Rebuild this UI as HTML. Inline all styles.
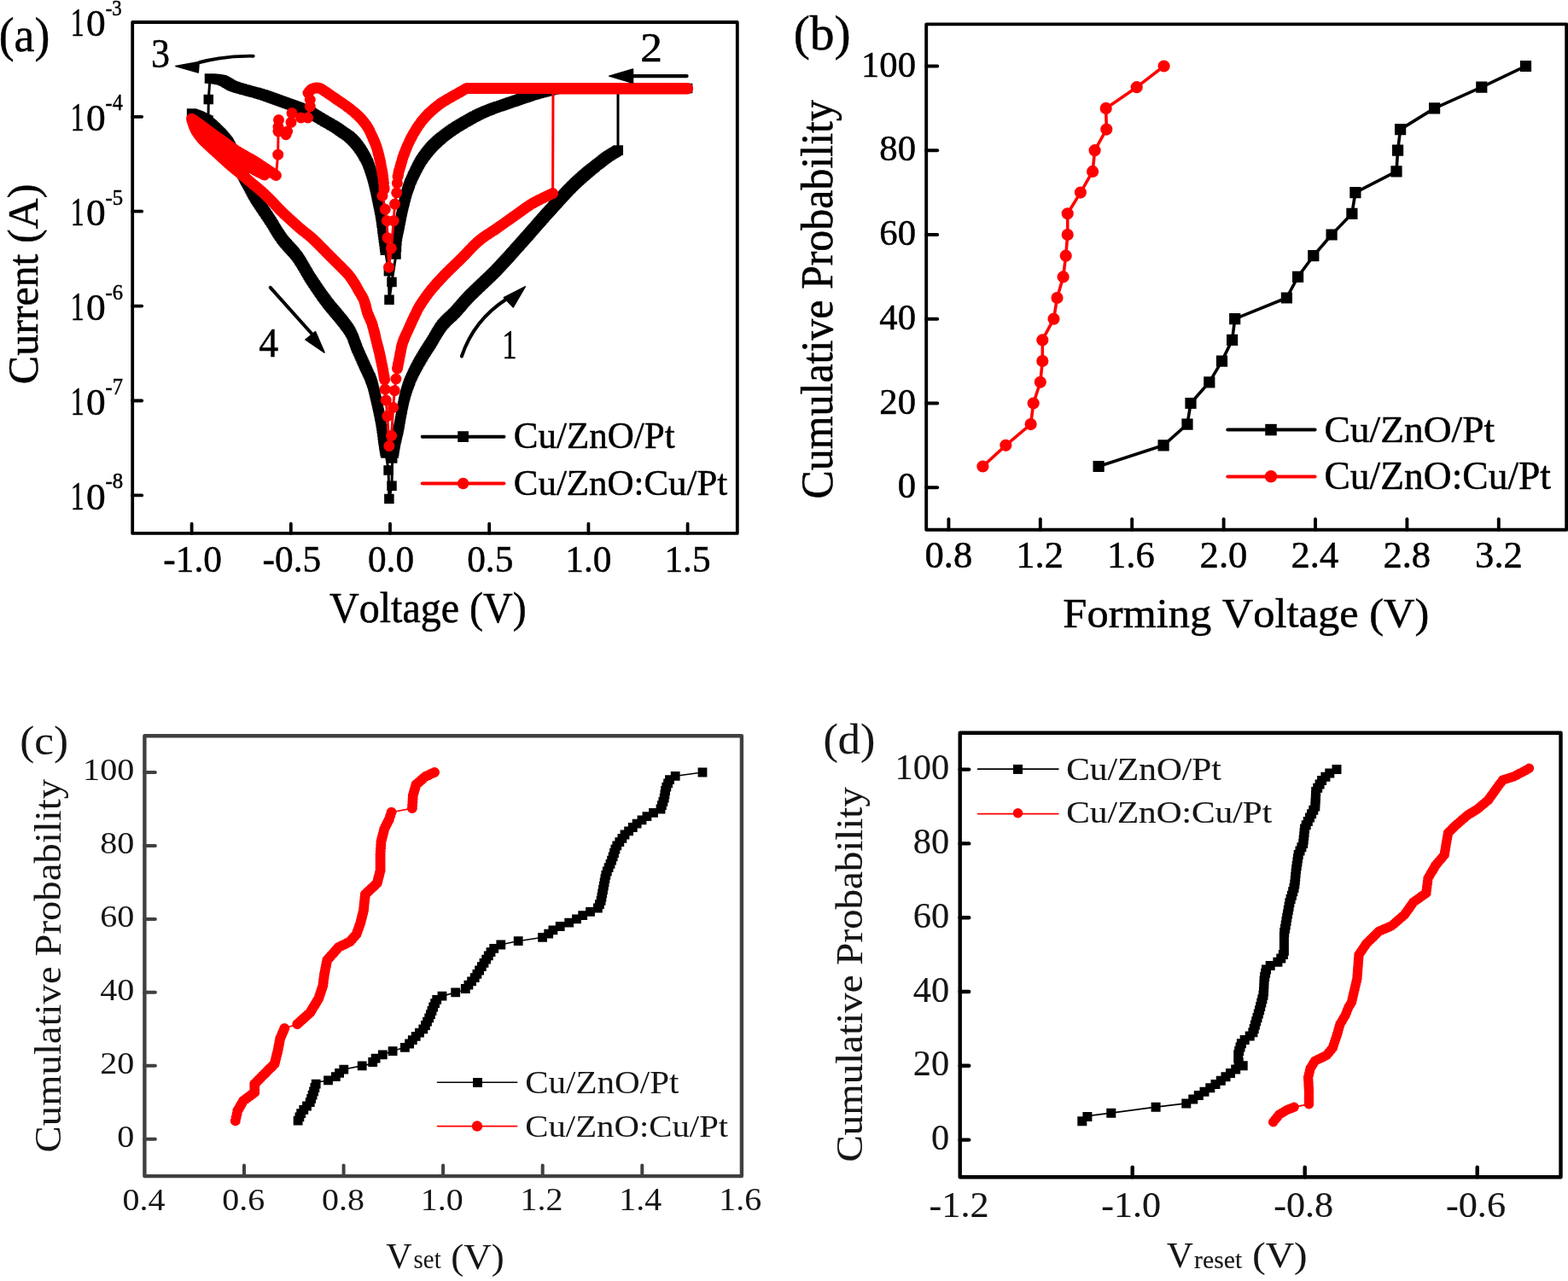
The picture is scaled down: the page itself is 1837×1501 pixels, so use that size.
<!DOCTYPE html>
<html><head><meta charset="utf-8"><title>Figure</title>
<style>html,body{margin:0;padding:0;background:#fff;overflow:hidden}svg{display:block}</style>
</head><body>
<svg width="1837" height="1501" viewBox="0 0 1837 1501" font-family="&apos;Liberation Serif&apos;, serif">
<rect width="1837" height="1501" fill="#fff"/>
<path d="M224.6 133 L226 133.5 L227.4 134 L228.8 134.5 L230.2 135 L231.6 135.5 L233 136.1 L234.4 136.7 L235.8 137.4 L237.2 138.2 L238.6 139 L239.9 139.9 L241.3 140.9 L242.7 142 L244.1 143.1 L245.1 143.9 L246 144.7 L246.9 145.5 L247.9 146.3 L248.8 147.1 L249.7 148 L250.6 148.8 L251.6 149.7 L252.5 150.6 L253.4 151.5 L254.4 152.4 L255.3 153.3 L256.2 154.2 L257.2 155.2 L258.1 156.1 L259 157.1 L259.9 158.1 L260.9 159.1 L261.8 160.2 L262.7 161.2 L263.7 162.3 L264.6 163.4 L265.5 164.6 L266.5 165.8 L267.4 167.1 L268.3 168.6 L269.2 170.2 L270.2 172.1 L271.1 174.1 L272 176.1 L273 178.1 L273.9 180.2 L274.8 182.4 L275.3 183.5 L275.8 184.6 L276.2 185.8 L276.7 186.9 L277.1 188 L278.1 190.2 L279 192.4 L279.5 193.5 L279.9 194.7 L280.4 195.8 L280.9 196.9 L281.3 198 L282.3 200.2 L283.2 202.3 L284.1 204.3 L285.1 206.1 L286 207.9 L286.9 209.7 L287.8 211.4 L288.8 213.1 L289.7 214.8 L290.6 216.5 L291.6 218.2 L292.5 219.9 L293.4 221.7 L294.4 223.4 L295.3 225.2 L296.2 226.9 L297.1 228.5 L298.1 230.1 L299 231.7 L299.9 233.2 L300.9 234.7 L301.8 236.1 L302.7 237.5 L303.7 238.9 L304.6 240.3 L305.5 241.7 L306.4 243.1 L307.4 244.5 L308.3 245.8 L309.2 247.2 L310.2 248.6 L311.1 249.9 L312 251.3 L313 252.7 L313.9 254.1 L314.8 255.5 L315.7 256.9 L316.7 258.3 L317.6 259.8 L318.5 261.3 L319.5 262.8 L320.4 264.3 L321.3 265.9 L322.3 267.4 L323.2 268.9 L324.1 270.5 L325 271.9 L326 273.4 L326.9 274.8 L327.8 276.2 L328.8 277.6 L329.7 278.9 L330.6 280.2 L331.6 281.4 L332.5 282.5 L333.4 283.7 L334.3 284.8 L335.3 285.8 L336.2 286.8 L337.1 287.9 L338.1 288.9 L339 289.9 L339.9 290.9 L340.9 291.9 L341.8 292.9 L342.7 294 L343.6 295 L344.6 296.1 L345.5 297.2 L346.4 298.4 L347.4 299.5 L348.3 300.8 L349.2 302.1 L350.2 303.4 L351.1 304.9 L352 306.3 L352.9 307.8 L353.9 309.4 L354.8 311 L355.7 312.6 L356.7 314.2 L357.6 315.8 L358.5 317.4 L359.5 319.1 L360.4 320.6 L361.3 322.2 L362.2 323.7 L363.2 325.2 L364.1 326.7 L365 328.1 L366 329.5 L366.9 330.9 L367.8 332.3 L368.8 333.7 L369.7 335.1 L370.6 336.5 L371.5 337.8 L372.5 339.2 L373.4 340.5 L374.3 341.9 L375.3 343.2 L376.2 344.5 L377.1 345.9 L378.1 347.2 L379 348.4 L379.9 349.7 L380.9 351 L381.8 352.2 L382.7 353.5 L383.6 354.7 L384.6 355.9 L385.5 357.1 L386.4 358.2 L387.4 359.4 L388.3 360.5 L389.2 361.6 L390.2 362.7 L391.1 363.8 L392 364.9 L392.9 366 L393.9 367.1 L394.8 368.2 L395.7 369.3 L396.7 370.4 L397.6 371.6 L398.5 372.7 L399.5 373.8 L400.4 374.9 L401.3 376.1 L402.2 377.3 L403.2 378.5 L404.1 379.7 L405 381 L406 382.2 L406.9 383.5 L407.8 384.8 L408.8 386.2 L409.7 387.7 L410.6 389.3 L411.5 391.1 L412.5 393 L413.4 395.2 L413.9 396.4 L414.3 397.6 L414.8 398.9 L415.3 400.2 L415.7 401.5 L416.2 402.8 L416.7 404.1 L417.1 405.3 L417.6 406.5 L418.1 407.7 L418.5 408.8 L419.4 411 L420.4 413.1 L421.3 415.2 L422.2 417.3 L423.2 419.4 L424.1 421.5 L425 423.6 L426 425.7 L426.9 427.7 L427.8 429.8 L428.7 431.8 L429.7 433.8 L430.6 435.8 L431.5 437.8 L432.5 439.9 L433.4 442 L433.9 443.1 L434.3 444.3 L434.8 445.5 L435.3 446.8 L435.7 448.2 L436.2 449.6 L436.7 451.2 L437.1 452.9 L437.6 454.7 L438 456.6 L438.5 458.6 L439 460.6 L439.4 462.6 L439.9 464.6 L440.4 466.6 L440.8 468.6 L441.3 470.6 L441.8 472.7 L442.2 474.7 L442.7 476.9 L443.2 479 L443.6 481.2 L444.1 483.5 L444.6 485.8 L445 488.2 L445.5 490.7 L446 493.4 L446.4 496.2 L446.9 499.2 L447.3 502.5 L447.8 506.1 L448.3 510 L448.7 513.7 L449.2 517 L449.7 520.1 L450.1 523.1 L450.6 525.8 L451.1 528.3 L451.5 530 L452 531 L455.1 551 L455.9 584.6 L459 569.3 L459.7 537 L461.2 531 L461.7 528.2 L462.1 525.5 L462.6 522.7 L463.1 520 L463.5 517.5 L464 515.1 L464.5 512.9 L464.9 510.9 L465.4 509 L465.8 507.1 L466.3 505.2 L466.8 503.2 L467.2 501.1 L467.7 498.7 L468.2 496.2 L468.6 493.5 L469.1 490.7 L469.6 488 L470 485.3 L470.5 482.7 L471 480.2 L471.4 477.9 L471.9 475.6 L472.4 473.3 L472.8 471.1 L473.3 469 L473.7 467 L474.2 465 L474.7 463.2 L475.1 461.5 L475.6 459.8 L476.1 458.2 L476.5 456.7 L477 455.2 L477.5 453.8 L477.9 452.5 L478.4 451.2 L478.9 449.9 L479.3 448.7 L479.8 447.5 L480.3 446.4 L480.7 445.2 L481.6 443.1 L482.6 441 L483.5 439 L484.4 437 L485.4 435.1 L486.3 433.3 L487.2 431.4 L488.2 429.7 L489.1 427.9 L490 426.2 L490.9 424.6 L491.9 423 L492.8 421.4 L493.7 419.8 L494.7 418.2 L495.6 416.7 L496.5 415.1 L497.5 413.6 L498.4 412.1 L499.3 410.7 L500.2 409.2 L501.2 407.8 L502.1 406.3 L503 404.9 L504 403.4 L504.9 402 L505.8 400.5 L506.7 399 L507.7 397.4 L508.6 395.8 L509.5 394.2 L510.5 392.6 L511.4 391 L512.3 389.5 L513.3 387.9 L514.2 386.5 L515.1 385 L516 383.7 L517 382.4 L517.9 381.1 L518.8 380 L519.8 378.9 L520.7 377.9 L521.6 376.9 L522.5 376 L523.5 375.1 L524.4 374.2 L525.3 373.3 L526.3 372.5 L527.2 371.6 L528.1 370.8 L529.1 369.9 L530 369 L530.9 368.1 L531.8 367.2 L532.8 366.2 L533.7 365.2 L534.6 364.2 L535.6 363.2 L536.5 362.1 L537.4 361.1 L538.4 360 L539.3 358.9 L540.2 357.9 L541.1 356.8 L542.1 355.7 L543 354.6 L543.9 353.6 L544.9 352.5 L545.8 351.5 L546.7 350.5 L547.6 349.5 L548.6 348.5 L549.5 347.5 L550.4 346.6 L551.4 345.6 L552.3 344.7 L553.2 343.8 L554.2 342.9 L555.1 341.9 L556 341 L556.9 340.2 L557.9 339.3 L558.8 338.4 L559.7 337.5 L560.7 336.6 L561.6 335.7 L562.5 334.9 L563.4 334 L564.4 333.1 L565.3 332.2 L566.2 331.4 L567.2 330.5 L568.1 329.6 L569 328.7 L570 327.8 L570.9 327 L571.8 326.1 L572.7 325.2 L573.7 324.3 L574.6 323.4 L575.5 322.5 L576.5 321.6 L577.4 320.7 L578.3 319.7 L579.3 318.8 L580.2 317.9 L581.1 316.9 L582 316 L583 315 L583.9 314 L584.8 313 L585.8 312.1 L586.7 311.1 L587.6 310.1 L588.5 309.1 L589.5 308.1 L590.4 307.1 L591.3 306.1 L592.3 305 L593.2 304 L594.1 303 L595.1 302 L596 300.9 L596.9 299.9 L597.8 298.9 L598.8 297.8 L599.7 296.8 L600.6 295.8 L601.6 294.7 L602.5 293.7 L603.4 292.6 L604.3 291.6 L605.3 290.5 L606.2 289.5 L607.1 288.5 L608.1 287.4 L609 286.4 L609.9 285.3 L610.9 284.3 L611.8 283.2 L612.7 282.2 L613.6 281.2 L614.6 280.1 L615.5 279.1 L616.4 278 L617.4 277 L618.3 275.9 L619.2 274.9 L620.2 273.8 L621.1 272.8 L622 271.7 L622.9 270.6 L623.9 269.6 L624.8 268.5 L625.7 267.4 L626.7 266.4 L627.6 265.3 L628.5 264.2 L629.4 263.2 L630.4 262.1 L631.3 261.1 L632.2 260 L633.2 258.9 L634.1 257.9 L635 256.8 L636 255.8 L636.9 254.7 L637.8 253.7 L638.7 252.6 L639.7 251.6 L640.6 250.6 L641.5 249.5 L642.5 248.5 L643.4 247.5 L644.3 246.4 L645.2 245.4 L646.2 244.4 L647.1 243.4 L648 242.3 L649 241.3 L649.9 240.3 L650.8 239.2 L651.8 238.2 L652.7 237.2 L653.6 236.2 L654.5 235.1 L655.5 234.1 L656.4 233.1 L657.3 232.1 L658.3 231.1 L659.2 230.1 L660.1 229 L661.1 228 L662 227 L662.9 226.1 L663.8 225.1 L664.8 224.1 L665.7 223.1 L666.6 222.1 L667.6 221.2 L668.5 220.2 L669.4 219.3 L670.3 218.3 L671.3 217.4 L672.2 216.5 L673.1 215.6 L674.1 214.7 L675 213.8 L675.9 212.9 L676.9 212.1 L677.8 211.2 L678.7 210.4 L679.6 209.5 L680.6 208.7 L681.5 207.9 L682.4 207.1 L683.4 206.3 L684.3 205.5 L685.2 204.7 L686.1 203.9 L687.1 203.1 L688 202.3 L688.9 201.5 L689.9 200.8 L690.8 200 L691.7 199.2 L693.1 198.1 L694.5 197 L695.9 195.9 L697.3 194.7 L698.7 193.6 L700.1 192.5 L701.5 191.4 L702.9 190.4 L704.3 189.3 L705.7 188.2 L707.1 187.1 L708.5 186.1 L709.9 185 L711.2 184.1 L712.6 183.1 L714 182.2 L715.4 181.3 L716.8 180.4 L718.2 179.6 L719.6 178.7 L721 177.9 L722.4 177.1 L723.8 176.3 L724.3 176.1" fill="none" stroke="#000" stroke-width="3" stroke-linejoin="round" stroke-linecap="round" />
<path d="M724 176 L724 103.6 L726.6 103.6 L727.7 103.6 L728.9 103.6 L730.1 103.6 L731.2 103.6 L732.4 103.6 L733.6 103.6 L734.7 103.6 L735.9 103.6 L737 103.6 L738.2 103.6 L739.4 103.6 L740.5 103.6 L741.7 103.6 L742.9 103.6 L744 103.6 L745.2 103.6 L746.3 103.6 L747.5 103.6 L748.7 103.6 L749.8 103.6 L751 103.6 L752.1 103.6 L753.3 103.6 L754.5 103.6 L755.6 103.6 L756.8 103.6 L758 103.6 L759.1 103.6 L760.3 103.6 L761.4 103.6 L762.6 103.6 L763.8 103.6 L764.9 103.6 L766.1 103.6 L767.3 103.6 L768.4 103.6 L769.6 103.6 L770.7 103.6 L771.9 103.6 L773.1 103.6 L774.2 103.6 L775.4 103.6 L776.5 103.6 L777.7 103.6 L778.9 103.6 L780 103.6 L781.2 103.6 L782.4 103.6 L783.5 103.6 L784.7 103.6 L785.8 103.6 L787 103.6 L788.2 103.6 L789.3 103.6 L790.5 103.6 L791.7 103.6 L792.8 103.6 L794 103.6 L795.1 103.6 L796.3 103.6 L797.5 103.6 L798.6 103.6 L799.8 103.6 L801 103.6 L802.1 103.6 L803.3 103.6 L804.4 103.6 L805.6 103.6" fill="none" stroke="#000" stroke-width="3" stroke-linejoin="round" stroke-linecap="round" />
<path d="M805.6 103.6 L804.2 103.6 L802.8 103.6 L801.4 103.6 L800 103.6 L798.6 103.6 L797.2 103.6 L795.8 103.6 L794.4 103.6 L793.1 103.6 L791.7 103.6 L790.3 103.6 L788.9 103.6 L787.5 103.6 L786.1 103.6 L784.7 103.6 L783.3 103.6 L781.9 103.6 L780.5 103.6 L779.1 103.6 L777.7 103.6 L776.3 103.6 L774.9 103.6 L773.5 103.6 L772.1 103.6 L770.7 103.6 L769.3 103.6 L768 103.6 L766.6 103.6 L765.2 103.6 L763.8 103.6 L762.4 103.6 L761 103.6 L759.6 103.6 L758.2 103.6 L756.8 103.6 L755.4 103.6 L754 103.6 L752.6 103.6 L751.2 103.6 L749.8 103.6 L748.4 103.6 L747 103.6 L745.6 103.6 L744.3 103.6 L742.9 103.6 L741.5 103.6 L740.1 103.6 L738.7 103.6 L737.3 103.6 L735.9 103.6 L734.5 103.6 L733.1 103.6 L731.7 103.6 L730.3 103.6 L728.9 103.6 L727.5 103.6 L726.1 103.6 L724.7 103.6 L723.3 103.6 L721.9 103.6 L720.5 103.6 L719.2 103.6 L717.8 103.6 L716.4 103.6 L715 103.6 L713.6 103.6 L712.2 103.6 L710.8 103.6 L709.4 103.6 L708 103.6 L706.6 103.6 L705.2 103.6 L703.8 103.6 L702.4 103.6 L701 103.6 L699.6 103.6 L698.2 103.6 L696.8 103.6 L695.5 103.6 L694.1 103.6 L692.7 103.6 L691.3 103.6 L689.9 103.6 L688.5 103.6 L687.1 103.6 L685.7 103.6 L684.3 103.6 L682.9 103.6 L681.5 103.6 L680.1 103.6 L678.7 103.6 L677.3 103.6 L675.9 103.6 L674.5 103.6 L673.1 103.6 L671.7 103.6 L670.4 103.6 L669 103.6 L667.6 103.6 L666.2 103.6 L664.8 103.7 L663.4 103.7 L662 103.7 L660.6 103.7 L659.2 103.8 L657.8 103.8 L656.4 103.9 L655 104 L653.6 104.1 L652.2 104.2 L650.8 104.4 L649.4 104.6 L648 105 L646.7 105.3 L645.3 105.7 L643.9 106 L642.5 106.3 L641.1 106.7 L639.7 107 L638.3 107.4 L636.9 107.7 L635.5 108.1 L634.1 108.4 L632.7 108.8 L631.3 109.2 L629.9 109.6 L628.5 110 L627.1 110.4 L625.7 110.8 L624.3 111.2 L622.9 111.6 L621.6 112.1 L620.2 112.5 L618.8 113 L617.4 113.4 L616 113.9 L614.6 114.4 L613.2 114.8 L611.8 115.3 L610.4 115.8 L609 116.3 L607.6 116.8 L606.2 117.2 L604.8 117.7 L603.4 118.2 L602 118.7 L600.6 119.2 L599.2 119.6 L597.9 120.1 L596.5 120.6 L595.1 121.1 L593.7 121.5 L592.3 122 L590.9 122.5 L589.5 122.9 L588.1 123.4 L586.7 123.9 L585.3 124.4 L583.9 124.8 L582.5 125.3 L581.1 125.8 L579.7 126.3 L578.3 126.8 L576.9 127.3 L575.5 127.8 L574.1 128.4 L572.8 128.9 L571.4 129.4 L570 130 L568.6 130.6 L567.2 131.2 L565.8 131.8 L564.4 132.4 L563 133.1 L561.6 133.7 L560.2 134.4 L558.8 135.1 L557.4 135.9 L556 136.6 L554.6 137.3 L553.2 138.1 L551.8 138.9 L550.4 139.6 L549.1 140.4 L547.7 141.2 L546.3 142 L544.9 142.8 L543.5 143.6 L542.1 144.4 L540.7 145.2 L539.3 146 L537.9 146.9 L536.5 147.7 L535.1 148.6 L533.7 149.5 L532.3 150.4 L530.9 151.3 L529.5 152.2 L528.1 153.2 L526.7 154.2 L525.3 155.2 L524 156.2 L522.6 157.3 L521.2 158.3 L519.8 159.4 L518.4 160.5 L517 161.6 L516.1 162.4 L515.1 163.2 L514.2 164 L513.3 164.8 L512.3 165.7 L511.4 166.5 L510.5 167.4 L509.5 168.3 L508.6 169.2 L507.7 170.1 L506.8 171.1 L505.8 172.1 L504.9 173.1 L504 174.1 L503 175.2 L502.1 176.3 L501.2 177.4 L500.3 178.6 L499.3 179.8 L498.4 181 L497.5 182.2 L496.5 183.5 L495.6 184.8 L494.7 186.2 L493.7 187.6 L492.8 189.1 L491.9 190.6 L491 192.3 L490 193.9 L489.1 195.7 L488.2 197.5 L487.2 199.4 L486.3 201.3 L485.4 203.2 L484.4 205.2 L483.5 207.1 L482.6 209.2 L481.7 211.3 L480.7 213.5 L480.3 214.7 L479.8 215.9 L479.3 217.2 L478.9 218.5 L478.4 219.8 L477.9 221.2 L477.5 222.6 L477 224.1 L476.5 225.7 L476.1 227.3 L475.6 229 L475.2 230.8 L474.7 232.6 L474.2 234.4 L473.8 236.3 L473.3 238.2 L472.8 240.2 L472.4 242.1 L471.9 244.2 L471.4 246.4 L471 248.6 L470.5 251 L470 253.4 L469.6 255.8 L469.1 258.3 L468.6 260.7 L468.2 263.1 L467.7 265.3 L467.3 267.3 L466.8 269.3 L466.3 271.4 L465.9 273.8 L465.4 277.1 L464.9 282.1 L464.5 289.4 L464 298 L459 330.6 L456 351.2 L455.4 317.8 L451.3 293.3 L451.3 293.3 L450.8 289.7 L450.4 286.1 L449.9 282.5 L449.4 278.9 L449 275.4 L448.5 271.9 L448 268.4 L447.6 264.8 L447.1 261.3 L446.7 257.9 L446.2 254.6 L445.7 251.4 L445.3 248.5 L444.8 245.9 L444.3 243.4 L443.9 241.1 L443.4 238.9 L442.9 236.7 L442.5 234.5 L442 232.2 L441.5 230 L441.1 227.7 L440.6 225.5 L440.2 223.3 L439.7 221.1 L439.2 219 L438.8 216.9 L438.3 214.9 L437.8 213 L437.4 211.2 L436.9 209.4 L436.4 207.6 L436 206 L435.5 204.4 L435 202.8 L434.6 201.3 L434.1 199.9 L433.6 198.4 L433.2 197.1 L432.7 195.7 L432.3 194.4 L431.8 193.1 L431.3 191.9 L430.9 190.7 L429.9 188.7 L429 186.8 L428.1 185 L427.1 183.3 L426.2 181.7 L425.3 180.1 L424.4 178.6 L423.4 177.1 L422.5 175.6 L421.6 174.2 L420.6 172.9 L419.7 171.6 L418.8 170.4 L417.9 169.2 L416.9 168.1 L416 167.1 L415.1 166 L414.1 165 L413.2 164.1 L412.3 163.1 L411.4 162.2 L410.4 161.4 L409.5 160.6 L408.6 159.8 L407.2 158.7 L405.8 157.8 L404.4 156.8 L403 156 L401.6 155.1 L400.2 154.1 L398.8 153.1 L397.4 152.1 L396 151 L394.6 150.1 L393.2 149.2 L391.8 148.3 L390.4 147.5 L389.1 146.7 L387.7 145.9 L386.3 145.1 L384.9 144.3 L383.5 143.5 L382.1 142.7 L380.7 141.9 L379.3 141.1 L377.9 140.3 L376.5 139.4 L375.1 138.6 L373.7 137.7 L372.3 136.9 L370.9 136 L369.5 135.2 L368.2 134.4 L366.8 133.5 L365.4 132.6 L364 131.8 L362.6 131.1 L361.2 130.5 L359.8 129.9 L358.4 129.3 L357 128.8 L355.6 128.2 L354.2 127.7 L352.8 127.2 L351.4 126.6 L350 126.1 L348.6 125.6 L347.2 125.1 L345.9 124.6 L344.5 124.1 L343.1 123.5 L341.7 123 L340.3 122.5 L338.9 122 L337.5 121.5 L336.1 121 L334.7 120.5 L333.3 120 L331.9 119.5 L330.5 119 L329.1 118.5 L327.7 118 L326.3 117.5 L324.9 117 L323.6 116.5 L322.2 116 L320.8 115.5 L319.4 115 L318 114.5 L316.6 114 L315.2 113.5 L313.8 113 L312.4 112.5 L311 112.1 L309.6 111.6 L308.2 111.1 L306.8 110.7 L305.4 110.2 L304 109.8 L302.7 109.4 L301.3 109 L299.9 108.6 L298.5 108.2 L297.1 107.9 L295.7 107.5 L294.3 107.2 L292.9 106.8 L291.5 106.4 L290.1 106 L288.7 105.6 L287.3 105.3 L285.9 104.9 L284.5 104.5 L283.1 104.1 L281.7 103.7 L280.4 103.3 L279 102.9 L277.6 102.5 L276.2 102.1 L274.8 101.6 L273.4 101 L272 100.4 L270.6 99.7 L269.2 99 L267.8 98.1 L266.4 97.3 L265 96.4 L263.6 95.6 L262.2 94.9 L260.8 94.3 L259.5 93.8 L258.1 93.5 L256.7 93.2 L255.3 92.9 L253.9 92.7 L252.5 92.6 L251.1 92.4 L249.7 92.3 L248.3 92.2 L246.9 92.1 L245.5 92" fill="none" stroke="#000" stroke-width="3" stroke-linejoin="round" stroke-linecap="round" />
<path d="M246 92 L244.3 116.6 L244 141 L241.7 140 L239.4 139 L237.1 138.5 L234.8 137.5 L232.5 136.5 L230.2 135.5 L227.9 134.5 L225.6 133.5" fill="none" stroke="#000" stroke-width="3" stroke-linejoin="round" stroke-linecap="round" />
<path d="M461.2 531h0M461.7 528.2h0M462.1 525.5h0M462.6 522.7h0M463.1 520h0M463.5 517.5h0M464 515.1h0M464.5 512.9h0M464.9 510.9h0M465.4 509h0M465.8 507.1h0M466.3 505.2h0M466.8 503.2h0M467.2 501.1h0M467.7 498.7h0M468.2 496.2h0M468.6 493.5h0M469.1 490.7h0M469.6 488h0M470 485.3h0M470.5 482.7h0M471 480.2h0M471.4 477.9h0M471.9 475.6h0M472.4 473.3h0M472.8 471.1h0M473.3 469h0M473.7 467h0M474.2 465h0M474.7 463.2h0M475.1 461.5h0M475.6 459.8h0M476.1 458.2h0M476.5 456.7h0M477 455.2h0M477.5 453.8h0M477.9 452.5h0M478.4 451.2h0M478.9 449.9h0M479.3 448.7h0M479.8 447.5h0M480.3 446.4h0M480.7 445.2h0M481.6 443.1h0M482.6 441h0M483.5 439h0M484.4 437h0M485.4 435.1h0M486.3 433.3h0M487.2 431.4h0M488.2 429.7h0M489.1 427.9h0M490 426.2h0M490.9 424.6h0M491.9 423h0M492.8 421.4h0M493.7 419.8h0M494.7 418.2h0M495.6 416.7h0M496.5 415.1h0M497.5 413.6h0M498.4 412.1h0M499.3 410.7h0M500.2 409.2h0M501.2 407.8h0M502.1 406.3h0M503 404.9h0M504 403.4h0M504.9 402h0M505.8 400.5h0M506.7 399h0M507.7 397.4h0M508.6 395.8h0M509.5 394.2h0M510.5 392.6h0M511.4 391h0M512.3 389.5h0M513.3 387.9h0M514.2 386.5h0M515.1 385h0M516 383.7h0M517 382.4h0M517.9 381.1h0M518.8 380h0M519.8 378.9h0M520.7 377.9h0M521.6 376.9h0M522.5 376h0M523.5 375.1h0M524.4 374.2h0M525.3 373.3h0M526.3 372.5h0M527.2 371.6h0M528.1 370.8h0M529.1 369.9h0M530 369h0M530.9 368.1h0M531.8 367.2h0M532.8 366.2h0M533.7 365.2h0M534.6 364.2h0M535.6 363.2h0M536.5 362.1h0M537.4 361.1h0M538.4 360h0M539.3 358.9h0M540.2 357.9h0M541.1 356.8h0M542.1 355.7h0M543 354.6h0M543.9 353.6h0M544.9 352.5h0M545.8 351.5h0M546.7 350.5h0M547.6 349.5h0M548.6 348.5h0M549.5 347.5h0M550.4 346.6h0M551.4 345.6h0M552.3 344.7h0M553.2 343.8h0M554.2 342.9h0M555.1 341.9h0M556 341h0M556.9 340.2h0M557.9 339.3h0M558.8 338.4h0M559.7 337.5h0M560.7 336.6h0M561.6 335.7h0M562.5 334.9h0M563.4 334h0M564.4 333.1h0M565.3 332.2h0M566.2 331.4h0M567.2 330.5h0M568.1 329.6h0M569 328.7h0M570 327.8h0M570.9 327h0M571.8 326.1h0M572.7 325.2h0M573.7 324.3h0M574.6 323.4h0M575.5 322.5h0M576.5 321.6h0M577.4 320.7h0M578.3 319.7h0M579.3 318.8h0M580.2 317.9h0M581.1 316.9h0M582 316h0M583 315h0M583.9 314h0M584.8 313h0M585.8 312.1h0M586.7 311.1h0M587.6 310.1h0M588.5 309.1h0M589.5 308.1h0M590.4 307.1h0M591.3 306.1h0M592.3 305h0M593.2 304h0M594.1 303h0M595.1 302h0M596 300.9h0M596.9 299.9h0M597.8 298.9h0M598.8 297.8h0M599.7 296.8h0M600.6 295.8h0M601.6 294.7h0M602.5 293.7h0M603.4 292.6h0M604.3 291.6h0M605.3 290.5h0M606.2 289.5h0M607.1 288.5h0M608.1 287.4h0M609 286.4h0M609.9 285.3h0M610.9 284.3h0M611.8 283.2h0M612.7 282.2h0M613.6 281.2h0M614.6 280.1h0M615.5 279.1h0M616.4 278h0M617.4 277h0M618.3 275.9h0M619.2 274.9h0M620.2 273.8h0M621.1 272.8h0M622 271.7h0M622.9 270.6h0M623.9 269.6h0M624.8 268.5h0M625.7 267.4h0M626.7 266.4h0M627.6 265.3h0M628.5 264.2h0M629.4 263.2h0M630.4 262.1h0M631.3 261.1h0M632.2 260h0M633.2 258.9h0M634.1 257.9h0M635 256.8h0M636 255.8h0M636.9 254.7h0M637.8 253.7h0M638.7 252.6h0M639.7 251.6h0M640.6 250.6h0M641.5 249.5h0M642.5 248.5h0M643.4 247.5h0M644.3 246.4h0M645.2 245.4h0M646.2 244.4h0M647.1 243.4h0M648 242.3h0M649 241.3h0M649.9 240.3h0M650.8 239.2h0M651.8 238.2h0M652.7 237.2h0M653.6 236.2h0M654.5 235.1h0M655.5 234.1h0M656.4 233.1h0M657.3 232.1h0M658.3 231.1h0M659.2 230.1h0M660.1 229h0M661.1 228h0M662 227h0M662.9 226.1h0M663.8 225.1h0M664.8 224.1h0M665.7 223.1h0M666.6 222.1h0M667.6 221.2h0M668.5 220.2h0M669.4 219.3h0M670.3 218.3h0M671.3 217.4h0M672.2 216.5h0M673.1 215.6h0M674.1 214.7h0M675 213.8h0M675.9 212.9h0M676.9 212.1h0M677.8 211.2h0M678.7 210.4h0M679.6 209.5h0M680.6 208.7h0M681.5 207.9h0M682.4 207.1h0M683.4 206.3h0M684.3 205.5h0M685.2 204.7h0M686.1 203.9h0M687.1 203.1h0M688 202.3h0M688.9 201.5h0M689.9 200.8h0M690.8 200h0M691.7 199.2h0M693.1 198.1h0M694.5 197h0M695.9 195.9h0M697.3 194.7h0M698.7 193.6h0M700.1 192.5h0M701.5 191.4h0M702.9 190.4h0M704.3 189.3h0M705.7 188.2h0M707.1 187.1h0M708.5 186.1h0M709.9 185h0M711.2 184.1h0M712.6 183.1h0M714 182.2h0M715.4 181.3h0M716.8 180.4h0M718.2 179.6h0M719.6 178.7h0M721 177.9h0M722.4 177.1h0M723.8 176.3h0M724.3 176.1h0M726.6 103.6h0M727.7 103.6h0M728.9 103.6h0M730.1 103.6h0M731.2 103.6h0M732.4 103.6h0M733.6 103.6h0M734.7 103.6h0M735.9 103.6h0M737 103.6h0M738.2 103.6h0M739.4 103.6h0M740.5 103.6h0M741.7 103.6h0M742.9 103.6h0M744 103.6h0M745.2 103.6h0M746.3 103.6h0M747.5 103.6h0M748.7 103.6h0M749.8 103.6h0M751 103.6h0M752.1 103.6h0M753.3 103.6h0M754.5 103.6h0M755.6 103.6h0M756.8 103.6h0M758 103.6h0M759.1 103.6h0M760.3 103.6h0M761.4 103.6h0M762.6 103.6h0M763.8 103.6h0M764.9 103.6h0M766.1 103.6h0M767.3 103.6h0M768.4 103.6h0M769.6 103.6h0M770.7 103.6h0M771.9 103.6h0M773.1 103.6h0M774.2 103.6h0M775.4 103.6h0M776.5 103.6h0M777.7 103.6h0M778.9 103.6h0M780 103.6h0M781.2 103.6h0M782.4 103.6h0M783.5 103.6h0M784.7 103.6h0M785.8 103.6h0M787 103.6h0M788.2 103.6h0M789.3 103.6h0M790.5 103.6h0M791.7 103.6h0M792.8 103.6h0M794 103.6h0M795.1 103.6h0M796.3 103.6h0M797.5 103.6h0M798.6 103.6h0M799.8 103.6h0M801 103.6h0M802.1 103.6h0M803.3 103.6h0M804.4 103.6h0M805.6 103.6h0M805.6 103.6h0M804.2 103.6h0M802.8 103.6h0M801.4 103.6h0M800 103.6h0M798.6 103.6h0M797.2 103.6h0M795.8 103.6h0M794.4 103.6h0M793.1 103.6h0M791.7 103.6h0M790.3 103.6h0M788.9 103.6h0M787.5 103.6h0M786.1 103.6h0M784.7 103.6h0M783.3 103.6h0M781.9 103.6h0M780.5 103.6h0M779.1 103.6h0M777.7 103.6h0M776.3 103.6h0M774.9 103.6h0M773.5 103.6h0M772.1 103.6h0M770.7 103.6h0M769.3 103.6h0M768 103.6h0M766.6 103.6h0M765.2 103.6h0M763.8 103.6h0M762.4 103.6h0M761 103.6h0M759.6 103.6h0M758.2 103.6h0M756.8 103.6h0M755.4 103.6h0M754 103.6h0M752.6 103.6h0M751.2 103.6h0M749.8 103.6h0M748.4 103.6h0M747 103.6h0M745.6 103.6h0M744.3 103.6h0M742.9 103.6h0M741.5 103.6h0M740.1 103.6h0M738.7 103.6h0M737.3 103.6h0M735.9 103.6h0M734.5 103.6h0M733.1 103.6h0M731.7 103.6h0M730.3 103.6h0M728.9 103.6h0M727.5 103.6h0M726.1 103.6h0M724.7 103.6h0M723.3 103.6h0M721.9 103.6h0M720.5 103.6h0M719.2 103.6h0M717.8 103.6h0M716.4 103.6h0M715 103.6h0M713.6 103.6h0M712.2 103.6h0M710.8 103.6h0M709.4 103.6h0M708 103.6h0M706.6 103.6h0M705.2 103.6h0M703.8 103.6h0M702.4 103.6h0M701 103.6h0M699.6 103.6h0M698.2 103.6h0M696.8 103.6h0M695.5 103.6h0M694.1 103.6h0M692.7 103.6h0M691.3 103.6h0M689.9 103.6h0M688.5 103.6h0M687.1 103.6h0M685.7 103.6h0M684.3 103.6h0M682.9 103.6h0M681.5 103.6h0M680.1 103.6h0M678.7 103.6h0M677.3 103.6h0M675.9 103.6h0M674.5 103.6h0M673.1 103.6h0M671.7 103.6h0M670.4 103.6h0M669 103.6h0M667.6 103.6h0M666.2 103.6h0M664.8 103.7h0M663.4 103.7h0M662 103.7h0M660.6 103.7h0M659.2 103.8h0M657.8 103.8h0M656.4 103.9h0M655 104h0M653.6 104.1h0M652.2 104.2h0M650.8 104.4h0M649.4 104.6h0M648 105h0M646.7 105.3h0M645.3 105.7h0M643.9 106h0M642.5 106.3h0M641.1 106.7h0M639.7 107h0M638.3 107.4h0M636.9 107.7h0M635.5 108.1h0M634.1 108.4h0M632.7 108.8h0M631.3 109.2h0M629.9 109.6h0M628.5 110h0M627.1 110.4h0M625.7 110.8h0M624.3 111.2h0M622.9 111.6h0M621.6 112.1h0M620.2 112.5h0M618.8 113h0M617.4 113.4h0M616 113.9h0M614.6 114.4h0M613.2 114.8h0M611.8 115.3h0M610.4 115.8h0M609 116.3h0M607.6 116.8h0M606.2 117.2h0M604.8 117.7h0M603.4 118.2h0M602 118.7h0M600.6 119.2h0M599.2 119.6h0M597.9 120.1h0M596.5 120.6h0M595.1 121.1h0M593.7 121.5h0M592.3 122h0M590.9 122.5h0M589.5 122.9h0M588.1 123.4h0M586.7 123.9h0M585.3 124.4h0M583.9 124.8h0M582.5 125.3h0M581.1 125.8h0M579.7 126.3h0M578.3 126.8h0M576.9 127.3h0M575.5 127.8h0M574.1 128.4h0M572.8 128.9h0M571.4 129.4h0M570 130h0M568.6 130.6h0M567.2 131.2h0M565.8 131.8h0M564.4 132.4h0M563 133.1h0M561.6 133.7h0M560.2 134.4h0M558.8 135.1h0M557.4 135.9h0M556 136.6h0M554.6 137.3h0M553.2 138.1h0M551.8 138.9h0M550.4 139.6h0M549.1 140.4h0M547.7 141.2h0M546.3 142h0M544.9 142.8h0M543.5 143.6h0M542.1 144.4h0M540.7 145.2h0M539.3 146h0M537.9 146.9h0M536.5 147.7h0M535.1 148.6h0M533.7 149.5h0M532.3 150.4h0M530.9 151.3h0M529.5 152.2h0M528.1 153.2h0M526.7 154.2h0M525.3 155.2h0M524 156.2h0M522.6 157.3h0M521.2 158.3h0M519.8 159.4h0M518.4 160.5h0M517 161.6h0M516.1 162.4h0M515.1 163.2h0M514.2 164h0M513.3 164.8h0M512.3 165.7h0M511.4 166.5h0M510.5 167.4h0M509.5 168.3h0M508.6 169.2h0M507.7 170.1h0M506.8 171.1h0M505.8 172.1h0M504.9 173.1h0M504 174.1h0M503 175.2h0M502.1 176.3h0M501.2 177.4h0M500.3 178.6h0M499.3 179.8h0M498.4 181h0M497.5 182.2h0M496.5 183.5h0M495.6 184.8h0M494.7 186.2h0M493.7 187.6h0M492.8 189.1h0M491.9 190.6h0M491 192.3h0M490 193.9h0M489.1 195.7h0M488.2 197.5h0M487.2 199.4h0M486.3 201.3h0M485.4 203.2h0M484.4 205.2h0M483.5 207.1h0M482.6 209.2h0M481.7 211.3h0M480.7 213.5h0M480.3 214.7h0M479.8 215.9h0M479.3 217.2h0M478.9 218.5h0M478.4 219.8h0M477.9 221.2h0M477.5 222.6h0M477 224.1h0M476.5 225.7h0M476.1 227.3h0M475.6 229h0M475.2 230.8h0M474.7 232.6h0M474.2 234.4h0M473.8 236.3h0M473.3 238.2h0M472.8 240.2h0M472.4 242.1h0M471.9 244.2h0M471.4 246.4h0M471 248.6h0M470.5 251h0M470 253.4h0M469.6 255.8h0M469.1 258.3h0M468.6 260.7h0M468.2 263.1h0M467.7 265.3h0M467.3 267.3h0M466.8 269.3h0M466.3 271.4h0M465.9 273.8h0M465.4 277.1h0M464.9 282.1h0M464.5 289.4h0M464 298h0M451.3 293.3h0M450.8 289.7h0M450.4 286.1h0M449.9 282.5h0M449.4 278.9h0M449 275.4h0M448.5 271.9h0M448 268.4h0M447.6 264.8h0M447.1 261.3h0M446.7 257.9h0M446.2 254.6h0M445.7 251.4h0M445.3 248.5h0M444.8 245.9h0M444.3 243.4h0M443.9 241.1h0M443.4 238.9h0M442.9 236.7h0M442.5 234.5h0M442 232.2h0M441.5 230h0M441.1 227.7h0M440.6 225.5h0M440.2 223.3h0M439.7 221.1h0M439.2 219h0M438.8 216.9h0M438.3 214.9h0M437.8 213h0M437.4 211.2h0M436.9 209.4h0M436.4 207.6h0M436 206h0M435.5 204.4h0M435 202.8h0M434.6 201.3h0M434.1 199.9h0M433.6 198.4h0M433.2 197.1h0M432.7 195.7h0M432.3 194.4h0M431.8 193.1h0M431.3 191.9h0M430.9 190.7h0M429.9 188.7h0M429 186.8h0M428.1 185h0M427.1 183.3h0M426.2 181.7h0M425.3 180.1h0M424.4 178.6h0M423.4 177.1h0M422.5 175.6h0M421.6 174.2h0M420.6 172.9h0M419.7 171.6h0M418.8 170.4h0M417.9 169.2h0M416.9 168.1h0M416 167.1h0M415.1 166h0M414.1 165h0M413.2 164.1h0M412.3 163.1h0M411.4 162.2h0M410.4 161.4h0M409.5 160.6h0M408.6 159.8h0M407.2 158.7h0M405.8 157.8h0M404.4 156.8h0M403 156h0M401.6 155.1h0M400.2 154.1h0M398.8 153.1h0M397.4 152.1h0M396 151h0M394.6 150.1h0M393.2 149.2h0M391.8 148.3h0M390.4 147.5h0M389.1 146.7h0M387.7 145.9h0M386.3 145.1h0M384.9 144.3h0M383.5 143.5h0M382.1 142.7h0M380.7 141.9h0M379.3 141.1h0M377.9 140.3h0M376.5 139.4h0M375.1 138.6h0M373.7 137.7h0M372.3 136.9h0M370.9 136h0M369.5 135.2h0M368.2 134.4h0M366.8 133.5h0M365.4 132.6h0M364 131.8h0M362.6 131.1h0M361.2 130.5h0M359.8 129.9h0M358.4 129.3h0M357 128.8h0M355.6 128.2h0M354.2 127.7h0M352.8 127.2h0M351.4 126.6h0M350 126.1h0M348.6 125.6h0M347.2 125.1h0M345.9 124.6h0M344.5 124.1h0M343.1 123.5h0M341.7 123h0M340.3 122.5h0M338.9 122h0M337.5 121.5h0M336.1 121h0M334.7 120.5h0M333.3 120h0M331.9 119.5h0M330.5 119h0M329.1 118.5h0M327.7 118h0M326.3 117.5h0M324.9 117h0M323.6 116.5h0M322.2 116h0M320.8 115.5h0M319.4 115h0M318 114.5h0M316.6 114h0M315.2 113.5h0M313.8 113h0M312.4 112.5h0M311 112.1h0M309.6 111.6h0M308.2 111.1h0M306.8 110.7h0M305.4 110.2h0M304 109.8h0M302.7 109.4h0M301.3 109h0M299.9 108.6h0M298.5 108.2h0M297.1 107.9h0M295.7 107.5h0M294.3 107.2h0M292.9 106.8h0M291.5 106.4h0M290.1 106h0M288.7 105.6h0M287.3 105.3h0M285.9 104.9h0M284.5 104.5h0M283.1 104.1h0M281.7 103.7h0M280.4 103.3h0M279 102.9h0M277.6 102.5h0M276.2 102.1h0M274.8 101.6h0M273.4 101h0M272 100.4h0M270.6 99.7h0M269.2 99h0M267.8 98.1h0M266.4 97.3h0M265 96.4h0M263.6 95.6h0M262.2 94.9h0M260.8 94.3h0M259.5 93.8h0M258.1 93.5h0M256.7 93.2h0M255.3 92.9h0M253.9 92.7h0M252.5 92.6h0M251.1 92.4h0M249.7 92.3h0M248.3 92.2h0M246.9 92.1h0M245.5 92h0M246 92h0M244.3 116.6h0M244 141h0M241.7 140h0M239.4 139h0M237.1 138.5h0M234.8 137.5h0M232.5 136.5h0M230.2 135.5h0M227.9 134.5h0M225.6 133.5h0M224.6 133h0M226 133.5h0M227.4 134h0M228.8 134.5h0M230.2 135h0M231.6 135.5h0M233 136.1h0M234.4 136.7h0M235.8 137.4h0M237.2 138.2h0M238.6 139h0M239.9 139.9h0M241.3 140.9h0M242.7 142h0M244.1 143.1h0M245.1 143.9h0M246 144.7h0M246.9 145.5h0M247.9 146.3h0M248.8 147.1h0M249.7 148h0M250.6 148.8h0M251.6 149.7h0M252.5 150.6h0M253.4 151.5h0M254.4 152.4h0M255.3 153.3h0M256.2 154.2h0M257.2 155.2h0M258.1 156.1h0M259 157.1h0M259.9 158.1h0M260.9 159.1h0M261.8 160.2h0M262.7 161.2h0M263.7 162.3h0M264.6 163.4h0M265.5 164.6h0M266.5 165.8h0M267.4 167.1h0M268.3 168.6h0M269.2 170.2h0M270.2 172.1h0M271.1 174.1h0M272 176.1h0M273 178.1h0M273.9 180.2h0M274.8 182.4h0M275.3 183.5h0M275.8 184.6h0M276.2 185.8h0M276.7 186.9h0M277.1 188h0M278.1 190.2h0M279 192.4h0M279.5 193.5h0M279.9 194.7h0M280.4 195.8h0M280.9 196.9h0M281.3 198h0M282.3 200.2h0M283.2 202.3h0M284.1 204.3h0M285.1 206.1h0M286 207.9h0M286.9 209.7h0M287.8 211.4h0M288.8 213.1h0M289.7 214.8h0M290.6 216.5h0M291.6 218.2h0M292.5 219.9h0M293.4 221.7h0M294.4 223.4h0M295.3 225.2h0M296.2 226.9h0M297.1 228.5h0M298.1 230.1h0M299 231.7h0M299.9 233.2h0M300.9 234.7h0M301.8 236.1h0M302.7 237.5h0M303.7 238.9h0M304.6 240.3h0M305.5 241.7h0M306.4 243.1h0M307.4 244.5h0M308.3 245.8h0M309.2 247.2h0M310.2 248.6h0M311.1 249.9h0M312 251.3h0M313 252.7h0M313.9 254.1h0M314.8 255.5h0M315.7 256.9h0M316.7 258.3h0M317.6 259.8h0M318.5 261.3h0M319.5 262.8h0M320.4 264.3h0M321.3 265.9h0M322.3 267.4h0M323.2 268.9h0M324.1 270.5h0M325 271.9h0M326 273.4h0M326.9 274.8h0M327.8 276.2h0M328.8 277.6h0M329.7 278.9h0M330.6 280.2h0M331.6 281.4h0M332.5 282.5h0M333.4 283.7h0M334.3 284.8h0M335.3 285.8h0M336.2 286.8h0M337.1 287.9h0M338.1 288.9h0M339 289.9h0M339.9 290.9h0M340.9 291.9h0M341.8 292.9h0M342.7 294h0M343.6 295h0M344.6 296.1h0M345.5 297.2h0M346.4 298.4h0M347.4 299.5h0M348.3 300.8h0M349.2 302.1h0M350.2 303.4h0M351.1 304.9h0M352 306.3h0M352.9 307.8h0M353.9 309.4h0M354.8 311h0M355.7 312.6h0M356.7 314.2h0M357.6 315.8h0M358.5 317.4h0M359.5 319.1h0M360.4 320.6h0M361.3 322.2h0M362.2 323.7h0M363.2 325.2h0M364.1 326.7h0M365 328.1h0M366 329.5h0M366.9 330.9h0M367.8 332.3h0M368.8 333.7h0M369.7 335.1h0M370.6 336.5h0M371.5 337.8h0M372.5 339.2h0M373.4 340.5h0M374.3 341.9h0M375.3 343.2h0M376.2 344.5h0M377.1 345.9h0M378.1 347.2h0M379 348.4h0M379.9 349.7h0M380.9 351h0M381.8 352.2h0M382.7 353.5h0M383.6 354.7h0M384.6 355.9h0M385.5 357.1h0M386.4 358.2h0M387.4 359.4h0M388.3 360.5h0M389.2 361.6h0M390.2 362.7h0M391.1 363.8h0M392 364.9h0M392.9 366h0M393.9 367.1h0M394.8 368.2h0M395.7 369.3h0M396.7 370.4h0M397.6 371.6h0M398.5 372.7h0M399.5 373.8h0M400.4 374.9h0M401.3 376.1h0M402.2 377.3h0M403.2 378.5h0M404.1 379.7h0M405 381h0M406 382.2h0M406.9 383.5h0M407.8 384.8h0M408.8 386.2h0M409.7 387.7h0M410.6 389.3h0M411.5 391.1h0M412.5 393h0M413.4 395.2h0M413.9 396.4h0M414.3 397.6h0M414.8 398.9h0M415.3 400.2h0M415.7 401.5h0M416.2 402.8h0M416.7 404.1h0M417.1 405.3h0M417.6 406.5h0M418.1 407.7h0M418.5 408.8h0M419.4 411h0M420.4 413.1h0M421.3 415.2h0M422.2 417.3h0M423.2 419.4h0M424.1 421.5h0M425 423.6h0M426 425.7h0M426.9 427.7h0M427.8 429.8h0M428.7 431.8h0M429.7 433.8h0M430.6 435.8h0M431.5 437.8h0M432.5 439.9h0M433.4 442h0M433.9 443.1h0M434.3 444.3h0M434.8 445.5h0M435.3 446.8h0M435.7 448.2h0M436.2 449.6h0M436.7 451.2h0M437.1 452.9h0M437.6 454.7h0M438 456.6h0M438.5 458.6h0M439 460.6h0M439.4 462.6h0M439.9 464.6h0M440.4 466.6h0M440.8 468.6h0M441.3 470.6h0M441.8 472.7h0M442.2 474.7h0M442.7 476.9h0M443.2 479h0M443.6 481.2h0M444.1 483.5h0M444.6 485.8h0M445 488.2h0M445.5 490.7h0M446 493.4h0M446.4 496.2h0M446.9 499.2h0M447.3 502.5h0M447.8 506.1h0M448.3 510h0M448.7 513.7h0M449.2 517h0M449.7 520.1h0M450.1 523.1h0M450.6 525.8h0M451.1 528.3h0M451.5 530h0M452 531h0M452 531h0M455.1 551h0M455.9 584.6h0M459 569.3h0M459.7 537h0M464 298h0M459 330.6h0M456 351.2h0M455.4 317.8h0M451.3 293.3h0" fill="none" stroke="#000" stroke-width="11.5" stroke-linecap="square"/>
<path d="M224.6 140 L225.1 141.4 L225.5 142.8 L226 144.3 L226.5 145.7 L226.9 147 L227.4 148.3 L227.9 149.5 L228.8 151.6 L229.7 153.3 L230.6 154.9 L231.6 156.3 L232.5 157.6 L233.4 158.8 L234.4 160 L235.3 161.2 L236.2 162.3 L237.2 163.3 L238.1 164.3 L239 165.3 L239.9 166.2 L240.9 167.1 L241.8 168 L242.7 168.9 L243.7 169.7 L244.6 170.6 L245.5 171.5 L246.5 172.4 L247.4 173.2 L248.3 174.1 L249.2 174.9 L250.2 175.8 L251.1 176.6 L252 177.4 L253 178.3 L253.9 179.1 L254.8 179.9 L255.8 180.8 L256.7 181.6 L257.6 182.5 L258.5 183.3 L259.5 184.2 L260.4 185.1 L261.3 185.9 L262.3 186.8 L263.2 187.7 L264.1 188.5 L265.1 189.4 L266 190.2 L266.9 191 L267.8 191.9 L268.8 192.7 L269.7 193.5 L270.6 194.3 L271.6 195 L272.5 195.8 L273.4 196.6 L274.4 197.3 L275.3 198.1 L276.2 198.9 L277.1 199.6 L278.1 200.4 L279 201.2 L279.9 201.9 L280.9 202.7 L281.8 203.5 L282.7 204.3 L283.7 205.1 L284.6 205.9 L285.5 206.7 L286.4 207.5 L287.4 208.2 L288.3 209 L289.2 209.8 L290.2 210.6 L291.1 211.4 L292 212.2 L293 213 L293.9 213.7 L294.8 214.5 L295.7 215.3 L296.7 216 L297.6 216.8 L298.5 217.6 L299.5 218.3 L300.4 219.1 L301.3 219.9 L302.3 220.6 L303.2 221.4 L304.1 222.2 L305 223 L306 223.9 L306.9 224.7 L307.8 225.5 L308.8 226.4 L309.7 227.2 L310.6 228.1 L311.6 229 L312.5 229.9 L313.4 230.8 L314.3 231.7 L315.3 232.6 L316.2 233.5 L317.1 234.5 L318.1 235.4 L319 236.4 L319.9 237.4 L320.9 238.4 L321.8 239.4 L322.7 240.4 L323.6 241.4 L324.6 242.4 L325.5 243.4 L326.4 244.4 L327.4 245.4 L328.3 246.3 L329.2 247.2 L330.2 248.1 L331.1 249 L332 249.9 L332.9 250.8 L333.9 251.7 L334.8 252.5 L335.7 253.4 L336.7 254.2 L337.6 255.1 L338.5 256 L339.5 256.8 L340.4 257.7 L341.3 258.5 L342.3 259.4 L343.2 260.2 L344.1 261 L345 261.9 L346 262.7 L346.9 263.6 L347.8 264.4 L348.8 265.2 L349.7 266 L350.6 266.8 L351.6 267.6 L352.5 268.4 L353.4 269.2 L354.8 270.3 L356.2 271.4 L357.6 272.5 L359 273.6 L360.4 274.7 L361.8 275.8 L362.7 276.6 L363.6 277.4 L364.6 278.2 L365.5 279 L366.4 279.8 L367.4 280.7 L368.3 281.6 L369.2 282.5 L370.2 283.4 L371.1 284.3 L372 285.2 L372.9 286.1 L373.9 287.1 L374.8 288 L375.7 289 L376.7 289.9 L377.6 290.8 L378.5 291.8 L379.5 292.7 L380.4 293.7 L381.3 294.6 L382.2 295.6 L383.2 296.5 L384.1 297.5 L385 298.4 L386 299.4 L386.9 300.3 L387.8 301.2 L388.8 302.1 L389.7 303.1 L390.6 304 L391.5 304.9 L392.5 305.8 L393.4 306.7 L394.3 307.7 L395.3 308.6 L396.2 309.5 L397.1 310.4 L398.1 311.3 L399 312.3 L399.9 313.2 L400.8 314.1 L401.8 315.1 L402.7 316 L403.6 317 L404.6 317.9 L405.5 318.9 L406.4 319.9 L407.4 320.9 L408.3 322 L409.2 323.1 L410.1 324.3 L411.1 325.6 L412 326.9 L412.9 328.4 L413.9 329.8 L414.8 331.2 L415.7 332.7 L416.7 334.3 L417.6 335.9 L418.5 337.6 L419.4 339.3 L420.4 340.9 L421.3 342.5 L422.2 344 L423.2 345.6 L424.1 347.2 L425 349 L426 350.9 L426.9 353.3 L427.3 354.7 L427.8 356.4 L428.3 358.2 L428.7 360.1 L429.2 362 L429.7 363.8 L430.1 365.4 L430.6 366.8 L431.1 368 L431.5 369.2 L432.5 371.3 L433.4 373.3 L434.3 375.5 L434.8 376.6 L435.3 377.8 L435.7 379.1 L436.2 380.6 L436.6 382.2 L437.1 383.8 L437.6 385.6 L438 387.4 L438.5 389.2 L439 391.1 L439.4 393 L439.9 395 L440.4 396.9 L440.8 398.8 L441.3 400.7 L441.8 402.6 L442.2 404.4 L442.7 406.3 L443.2 408.2 L443.6 410.1 L444.1 412.1 L444.6 414.1 L445 416.1 L445.5 418.1 L445.9 420.2 L446.4 422.3 L446.9 424.5 L447.3 426.7 L447.8 429 L448.3 431.5 L448.7 434 L449.2 436.7 L449.7 439.5 L450.1 442.2 L450.6 445 L451.1 456.2 L452.2 469 L453.8 487.6 L455.9 522.7 L458.6 510.5 L460.7 477.5 L462.3 457.7 L463.9 444 L465.5 432 L465.5 432 L466 429.6 L466.4 427.1 L466.9 424.7 L467.4 422.3 L467.8 419.9 L468.3 417.5 L468.8 415.2 L469.2 413 L469.7 410.6 L470.1 408.2 L470.6 406 L471.1 404.1 L471.5 402.5 L472 401 L472.5 399.7 L472.9 398.4 L473.4 397.3 L473.9 396.2 L474.8 394.1 L475.7 392 L476.6 390 L477.6 387.9 L478.5 385.9 L479.4 383.8 L480.4 381.7 L481.3 379.7 L482.2 377.6 L483.1 375.6 L484.1 373.6 L485 371.7 L485.9 369.7 L486.9 367.8 L487.8 365.8 L488.7 363.8 L489.7 362 L490.6 360.4 L491.5 358.8 L492.4 357.3 L493.4 355.9 L494.3 354.4 L495.2 353 L496.2 351.7 L497.1 350.3 L498 349 L498.9 347.7 L499.9 346.4 L500.8 345.1 L501.7 343.9 L502.7 342.7 L503.6 341.5 L504.5 340.4 L505.4 339.2 L506.4 338.1 L507.3 337 L508.2 335.9 L509.2 334.8 L510.1 333.8 L511 332.7 L511.9 331.7 L512.9 330.6 L513.8 329.6 L514.7 328.6 L515.7 327.6 L516.6 326.6 L517.5 325.6 L518.4 324.6 L519.4 323.7 L520.3 322.7 L521.2 321.7 L522.2 320.8 L523.1 319.8 L524 318.9 L525 318 L525.9 317.1 L526.8 316.1 L527.7 315.2 L528.7 314.3 L529.6 313.4 L530.5 312.5 L531.5 311.6 L532.4 310.7 L533.3 309.8 L534.2 308.9 L535.2 308 L536.1 307.1 L537 306.2 L538 305.3 L538.9 304.4 L539.8 303.5 L540.7 302.6 L541.7 301.6 L542.6 300.7 L543.5 299.7 L544.5 298.8 L545.4 297.8 L546.3 296.8 L547.2 295.9 L548.2 294.9 L549.1 293.9 L550 292.9 L551 292 L551.9 291 L552.8 290 L553.7 289.1 L554.7 288.2 L555.6 287.2 L556.5 286.3 L557.5 285.5 L558.4 284.6 L559.3 283.7 L560.2 282.9 L561.2 282.1 L562.1 281.3 L563.5 280.2 L564.9 279.1 L566.3 278.1 L567.7 277.1 L569.1 276.1 L570.5 275.2 L571.9 274.3 L573.3 273.4 L574.6 272.5 L576 271.6 L577.4 270.7 L578.8 269.8 L580.2 268.8 L581.6 267.9 L583 266.9 L584.4 265.9 L585.8 264.9 L587.2 264 L588.6 263 L590 262 L591.4 261 L592.8 260 L594.2 259 L595.5 258.1 L596.9 257.1 L598.3 256.1 L599.7 255.1 L601.1 254.1 L602.5 253.2 L603.9 252.2 L605.3 251.2 L606.7 250.2 L608.1 249.2 L609.5 248.1 L610.9 247.1 L612.3 246.1 L613.7 245.1 L615.1 244.1 L616.4 243.1 L617.8 242.2 L619.2 241.3 L620.6 240.3 L622 239.5 L623.4 238.6 L624.8 237.8 L626.2 237 L627.6 236.3 L629 235.6 L630.4 234.8 L631.8 234.1 L633.2 233.4 L634.6 232.7 L636 232.1 L637.3 231.4 L638.7 230.7 L640.1 230.1 L641.5 229.4 L642.9 228.7 L644.3 228.1 L645.7 227.4 L647.1 226.8 L647.6 226.6" fill="none" stroke="#ff0000" stroke-width="3" stroke-linejoin="round" stroke-linecap="round" />
<path d="M647.6 226 L648 104 L649.9 104 L651.1 104 L652.2 104 L653.4 104 L654.5 104 L655.7 104 L656.9 104 L658 104 L659.2 104 L660.4 104 L661.5 104 L662.7 104 L663.8 104 L665 104 L666.2 104 L667.3 104 L668.5 104 L669.6 104 L670.8 104 L672 104 L673.1 104 L674.3 104 L675.5 104 L676.6 104 L677.8 104 L678.9 104 L680.1 104 L681.3 104 L682.4 104 L683.6 104 L684.8 104 L685.9 104 L687.1 104 L688.2 104 L689.4 104 L690.6 104 L691.7 104 L692.9 104 L694 104 L695.2 104 L696.4 104 L697.5 104 L698.7 104 L699.9 104 L701 104 L702.2 104 L703.3 104 L704.5 104 L705.7 104 L706.8 104 L708 104 L709.2 104 L710.3 104 L711.5 104 L712.6 104 L713.8 104 L715 104 L716.1 104 L717.3 104 L718.5 104 L719.6 104 L720.8 104 L721.9 104 L723.1 104 L724.3 104 L725.4 104 L726.6 104 L727.7 104 L728.9 104 L730.1 104 L731.2 104 L732.4 104 L733.6 104 L734.7 104 L735.9 104 L737 104 L738.2 104 L739.4 104 L740.5 104 L741.7 104 L742.9 104 L744 104 L745.2 104 L746.3 104 L747.5 104 L748.7 104 L749.8 104 L751 104 L752.1 104 L753.3 104 L754.5 104 L755.6 104 L756.8 104 L758 104 L759.1 104 L760.3 104 L761.4 104 L762.6 104 L763.8 104 L764.9 104 L766.1 104 L767.3 104 L768.4 104 L769.6 104 L770.7 104 L771.9 104 L773.1 104 L774.2 104 L775.4 104 L776.6 104 L777.7 104 L778.9 104 L780 104 L781.2 104 L782.4 104 L783.5 104 L784.7 104 L785.8 104 L787 104 L788.2 104 L789.3 104 L790.5 104 L791.7 104 L792.8 104 L794 104 L795.1 104 L796.3 104 L797.5 104 L798.6 104 L799.8 104 L801 104 L802.1 104 L803.3 104 L804.4 104 L805.6 104" fill="none" stroke="#ff0000" stroke-width="3" stroke-linejoin="round" stroke-linecap="round" />
<path d="M805.6 103.6 L804.2 103.6 L802.8 103.6 L801.4 103.6 L800 103.6 L798.6 103.6 L797.2 103.6 L795.8 103.6 L794.4 103.6 L793 103.6 L791.6 103.6 L790.3 103.6 L788.9 103.6 L787.5 103.6 L786.1 103.6 L784.7 103.6 L783.3 103.6 L781.9 103.6 L780.5 103.6 L779.1 103.6 L777.7 103.6 L776.3 103.6 L774.9 103.6 L773.5 103.6 L772.1 103.6 L770.7 103.6 L769.3 103.6 L767.9 103.6 L766.5 103.6 L765.1 103.6 L763.7 103.6 L762.3 103.6 L761 103.6 L759.6 103.6 L758.2 103.6 L756.8 103.6 L755.4 103.6 L754 103.6 L752.6 103.6 L751.2 103.6 L749.8 103.6 L748.4 103.6 L747 103.6 L745.6 103.6 L744.2 103.6 L742.8 103.6 L741.4 103.6 L740 103.6 L738.6 103.6 L737.2 103.6 L735.8 103.6 L734.4 103.6 L733 103.6 L731.7 103.6 L730.3 103.6 L728.9 103.6 L727.5 103.6 L726.1 103.6 L724.7 103.6 L723.3 103.6 L721.9 103.6 L720.5 103.6 L719.1 103.6 L717.7 103.6 L716.3 103.6 L714.9 103.6 L713.5 103.6 L712.1 103.6 L710.7 103.6 L709.3 103.6 L707.9 103.6 L706.5 103.6 L705.1 103.6 L703.8 103.6 L702.4 103.6 L701 103.6 L699.6 103.6 L698.2 103.6 L696.8 103.6 L695.4 103.6 L694 103.6 L692.6 103.6 L691.2 103.6 L689.8 103.6 L688.4 103.6 L687 103.6 L685.6 103.6 L684.2 103.6 L682.8 103.6 L681.4 103.6 L680 103.6 L678.6 103.6 L677.2 103.6 L675.8 103.6 L674.5 103.6 L673.1 103.6 L671.7 103.6 L670.3 103.6 L668.9 103.6 L667.5 103.6 L666.1 103.6 L664.7 103.6 L663.3 103.6 L661.9 103.6 L660.5 103.6 L659.1 103.6 L657.7 103.6 L656.3 103.6 L654.9 103.6 L653.5 103.6 L652.1 103.6 L650.7 103.6 L649.3 103.6 L647.9 103.6 L646.5 103.6 L645.2 103.6 L643.8 103.6 L642.4 103.6 L641 103.6 L639.6 103.6 L638.2 103.6 L636.8 103.6 L635.4 103.6 L634 103.6 L632.6 103.6 L631.2 103.6 L629.8 103.6 L628.4 103.6 L627 103.6 L625.6 103.6 L624.2 103.6 L622.8 103.6 L621.4 103.6 L620 103.6 L618.6 103.6 L617.2 103.6 L615.9 103.6 L614.5 103.6 L613.1 103.6 L611.7 103.6 L610.3 103.6 L608.9 103.6 L607.5 103.6 L606.1 103.6 L604.7 103.6 L603.3 103.6 L601.9 103.6 L600.5 103.6 L599.1 103.6 L597.7 103.6 L596.3 103.6 L594.9 103.6 L593.5 103.6 L592.1 103.6 L590.7 103.6 L589.3 103.6 L587.9 103.6 L586.6 103.6 L585.2 103.6 L583.8 103.6 L582.4 103.6 L581 103.6 L579.6 103.6 L578.2 103.6 L576.8 103.6 L575.4 103.6 L574 103.6 L572.6 103.6 L571.2 103.6 L569.8 103.6 L568.4 103.6 L567 103.6 L565.6 103.6 L564.2 103.6 L562.8 103.6 L561.4 103.6 L560 103.6 L558.6 103.6 L557.3 103.6 L555.9 103.6 L554.5 103.6 L553.1 103.6 L551.7 103.6 L550.3 103.6 L548.9 103.6 L547.5 103.6 L546.1 103.8 L544.7 104.6 L543.3 105.4 L541.9 106.2 L540.5 107 L539.1 107.8 L537.7 108.6 L536.3 109.4 L534.9 110.2 L533.5 110.9 L532.1 111.7 L530.7 112.5 L529.3 113.3 L528 114.1 L526.6 114.9 L525.2 115.7 L523.8 116.5 L522.4 117.3 L521 118.2 L519.6 119 L518.2 119.8 L516.8 120.7 L515.4 121.8 L514 122.9 L512.6 124 L511.2 125.1 L509.8 126.2 L508.4 127.3 L507.5 128.2 L506.6 129 L505.6 129.8 L504.7 130.7 L503.8 131.5 L502.8 132.3 L501.9 133.1 L501 134.1 L500.1 135.1 L499.1 136.2 L498.2 137.2 L497.3 138.2 L496.3 139.3 L495.4 140.3 L494.5 141.5 L493.5 142.7 L492.6 144 L491.7 145.3 L490.7 146.6 L489.8 147.9 L488.9 149.2 L488 150.7 L487 152.3 L486.1 153.8 L485.2 155.4 L484.2 156.9 L483.3 158.6 L482.4 160.4 L481.4 162.2 L480.5 164 L479.6 165.9 L478.7 167.8 L477.7 170 L476.8 172.2 L475.9 174.4 L474.9 176.7 L474.5 177.9 L474 179.2 L473.5 180.4 L473.1 181.6 L472.6 182.9 L472.1 184.1 L471.7 185.6 L471.2 187.3 L470.8 188.9 L470.3 190.6 L469.8 192.2 L469.4 193.8 L468.9 195.4 L468.4 196.9 L468 198.5 L467.5 200 L467 202.3 L466.6 204.7 L466.1 207 L465.4 214.6 L464.7 225.8 L462.6 239.1 L461.2 258.7 L458.4 290.9 L455.6 313.2 L454 278.7 L453.3 258.7 L451.3 245.3 L448 229.3 L450 220 L450 222 L449.5 214.6 L449.1 210.6 L448.6 207.1 L448.1 204 L447.7 201 L447.2 198.4 L446.7 195.8 L446.3 193.5 L445.8 191.2 L445.4 189 L444.9 187 L444.4 185 L444 183 L443.5 181 L443 179.2 L442.6 177.4 L442.1 175.6 L441.6 174 L441.2 172.5 L440.7 171.1 L440.2 169.8 L439.8 168.6 L439.3 167.4 L438.8 166.3 L437.9 164.2 L437 162.2 L436.1 160.1 L435.1 158.1 L434.2 156 L433.3 153.9 L432.3 152 L431.4 150.3 L430.5 148.8 L429.6 147.3 L428.6 146 L427.7 144.8 L426.8 143.6 L425.8 142.4 L424.9 141.3 L424 140.2 L423.1 139.2 L422.1 138.2 L421.2 137.2 L420.3 136.3 L419.3 135.4 L418.4 134.5 L417.5 133.6 L416.5 132.8 L415.6 132 L414.7 131.2 L413.8 130.5 L412.4 129.4 L411 128.3 L409.6 127.2 L408.2 126.1 L406.8 125.1 L405.4 124 L404 123 L402.6 122 L401.2 121.1 L399.8 120.1 L398.4 119.2 L397 118.2 L395.6 117.3 L394.2 116.3 L392.8 115.4 L391.5 114.4 L390.1 113.5 L388.7 112.5 L387.3 111.5 L385.9 110.6 L384.5 109.6 L383.1 108.7 L381.7 107.7 L380.3 106.8 L378.9 105.9 L377.5 104.9 L376.1 104 L374.7 103.5 L373.3 103.2 L371.9 103.1 L370.5 103.1 L369.2 103.2 L367.8 103.4 L366.4 103.9 L365 104.6 L364 105.4 L363.1 106.4 L362.2 107.6 L361.7 108.1 L361 109 L363.3 117 L363.3 124.6 L360.6 138 L352.6 138 L342 132.6 L341 143.3 L336.6 154 L335 157.7 L326.5 140.6 L326 148.6 L326 154 L325.7 181.2 L323.4 205.5 L323.4 205.5 L322 204.6 L320.6 203.7 L319.2 202.8 L317.8 201.8 L316.4 200.9 L315.1 200 L313.7 199.1 L312.3 198.2 L310.9 197.2 L309.5 196.3 L308.1 195.4 L306.7 194.4 L305.3 193.5 L303.9 192.5 L302.5 191.6 L301.1 190.7 L299.7 189.8 L298.4 189 L297 188.2 L295.6 187.3 L294.2 186.5 L292.8 185.7 L291.4 185 L290 184.2 L288.6 183.4 L287.2 182.5 L285.8 181.8 L284.4 181 L283 180.2 L281.7 179.4 L280.3 178.6 L278.9 177.8 L277.5 176.9 L276.1 176.1 L274.7 175.1 L273.3 174.2 L271.9 173.2 L270.5 172.2 L269.1 171.2 L267.7 170.2 L266.3 169.2 L265 168.1 L263.6 167.1 L262.2 166.1 L260.8 165.1 L259.4 164.1 L258 163.2 L256.6 162.2 L255.2 161.2 L253.8 160.2 L252.4 159.2 L251 158.2 L249.6 157.2 L248.3 156.2 L246.9 155.2 L245.5 154.1 L244.1 153.1 L242.7 152 L241.3 151 L239.9 149.9 L238.5 148.9 L237.1 147.8 L235.7 146.8 L234.3 145.8 L232.9 144.8 L231.6 143.8 L230.2 142.9 L228.8 141.9 L227.4 140.9 L226 140 L224.6 139.2" fill="none" stroke="#ff0000" stroke-width="3" stroke-linejoin="round" stroke-linecap="round" />
<path d="M226 142h0M226.9 143h0M228.2 144.2h0M229.6 145.7h0M231.2 147.4h0M232.9 149.1h0M234.7 151h0M236.6 152.8h0M238.3 154.5h0M240 156h0M241.6 157.4h0M243.3 158.8h0M244.9 160.1h0M246.6 161.5h0M248.3 162.8h0M250 164.1h0M251.6 165.4h0M253.3 166.7h0M255 168h0M256.7 169.3h0M258.3 170.7h0M260 172h0M261.7 173.4h0M263.3 174.7h0M265 176.1h0M266.7 177.4h0M268.3 178.7h0M270 180h0M271.7 181.3h0M273.4 182.6h0M275.1 183.9h0M276.8 185.1h0M278.5 186.4h0M280.1 187.6h0M281.8 188.8h0M283.4 189.9h0M285 191h0M287 192.3h0M288.9 193.6h0M290.8 194.7h0M292.6 195.9h0M294.4 196.9h0M296.2 198h0M298 199h0M300.2 200.2h0M302.5 201.4h0M304.8 202.5h0M306.9 203.5h0M308.7 204.4h0M310 205h0M465.5 432h0M466 429.6h0M466.4 427.1h0M466.9 424.7h0M467.4 422.3h0M467.8 419.9h0M468.3 417.5h0M468.8 415.2h0M469.2 413h0M469.7 410.6h0M470.1 408.2h0M470.6 406h0M471.1 404.1h0M471.5 402.5h0M472 401h0M472.5 399.7h0M472.9 398.4h0M473.4 397.3h0M473.9 396.2h0M474.8 394.1h0M475.7 392h0M476.6 390h0M477.6 387.9h0M478.5 385.9h0M479.4 383.8h0M480.4 381.7h0M481.3 379.7h0M482.2 377.6h0M483.1 375.6h0M484.1 373.6h0M485 371.7h0M485.9 369.7h0M486.9 367.8h0M487.8 365.8h0M488.7 363.8h0M489.7 362h0M490.6 360.4h0M491.5 358.8h0M492.4 357.3h0M493.4 355.9h0M494.3 354.4h0M495.2 353h0M496.2 351.7h0M497.1 350.3h0M498 349h0M498.9 347.7h0M499.9 346.4h0M500.8 345.1h0M501.7 343.9h0M502.7 342.7h0M503.6 341.5h0M504.5 340.4h0M505.4 339.2h0M506.4 338.1h0M507.3 337h0M508.2 335.9h0M509.2 334.8h0M510.1 333.8h0M511 332.7h0M511.9 331.7h0M512.9 330.6h0M513.8 329.6h0M514.7 328.6h0M515.7 327.6h0M516.6 326.6h0M517.5 325.6h0M518.4 324.6h0M519.4 323.7h0M520.3 322.7h0M521.2 321.7h0M522.2 320.8h0M523.1 319.8h0M524 318.9h0M525 318h0M525.9 317.1h0M526.8 316.1h0M527.7 315.2h0M528.7 314.3h0M529.6 313.4h0M530.5 312.5h0M531.5 311.6h0M532.4 310.7h0M533.3 309.8h0M534.2 308.9h0M535.2 308h0M536.1 307.1h0M537 306.2h0M538 305.3h0M538.9 304.4h0M539.8 303.5h0M540.7 302.6h0M541.7 301.6h0M542.6 300.7h0M543.5 299.7h0M544.5 298.8h0M545.4 297.8h0M546.3 296.8h0M547.2 295.9h0M548.2 294.9h0M549.1 293.9h0M550 292.9h0M551 292h0M551.9 291h0M552.8 290h0M553.7 289.1h0M554.7 288.2h0M555.6 287.2h0M556.5 286.3h0M557.5 285.5h0M558.4 284.6h0M559.3 283.7h0M560.2 282.9h0M561.2 282.1h0M562.1 281.3h0M563.5 280.2h0M564.9 279.1h0M566.3 278.1h0M567.7 277.1h0M569.1 276.1h0M570.5 275.2h0M571.9 274.3h0M573.3 273.4h0M574.6 272.5h0M576 271.6h0M577.4 270.7h0M578.8 269.8h0M580.2 268.8h0M581.6 267.9h0M583 266.9h0M584.4 265.9h0M585.8 264.9h0M587.2 264h0M588.6 263h0M590 262h0M591.4 261h0M592.8 260h0M594.2 259h0M595.5 258.1h0M596.9 257.1h0M598.3 256.1h0M599.7 255.1h0M601.1 254.1h0M602.5 253.2h0M603.9 252.2h0M605.3 251.2h0M606.7 250.2h0M608.1 249.2h0M609.5 248.1h0M610.9 247.1h0M612.3 246.1h0M613.7 245.1h0M615.1 244.1h0M616.4 243.1h0M617.8 242.2h0M619.2 241.3h0M620.6 240.3h0M622 239.5h0M623.4 238.6h0M624.8 237.8h0M626.2 237h0M627.6 236.3h0M629 235.6h0M630.4 234.8h0M631.8 234.1h0M633.2 233.4h0M634.6 232.7h0M636 232.1h0M637.3 231.4h0M638.7 230.7h0M640.1 230.1h0M641.5 229.4h0M642.9 228.7h0M644.3 228.1h0M645.7 227.4h0M647.1 226.8h0M647.6 226.6h0M648 104h0M649.9 104h0M651.1 104h0M652.2 104h0M653.4 104h0M654.5 104h0M655.7 104h0M656.9 104h0M658 104h0M659.2 104h0M660.4 104h0M661.5 104h0M662.7 104h0M663.8 104h0M665 104h0M666.2 104h0M667.3 104h0M668.5 104h0M669.6 104h0M670.8 104h0M672 104h0M673.1 104h0M674.3 104h0M675.5 104h0M676.6 104h0M677.8 104h0M678.9 104h0M680.1 104h0M681.3 104h0M682.4 104h0M683.6 104h0M684.8 104h0M685.9 104h0M687.1 104h0M688.2 104h0M689.4 104h0M690.6 104h0M691.7 104h0M692.9 104h0M694 104h0M695.2 104h0M696.4 104h0M697.5 104h0M698.7 104h0M699.9 104h0M701 104h0M702.2 104h0M703.3 104h0M704.5 104h0M705.7 104h0M706.8 104h0M708 104h0M709.2 104h0M710.3 104h0M711.5 104h0M712.6 104h0M713.8 104h0M715 104h0M716.1 104h0M717.3 104h0M718.5 104h0M719.6 104h0M720.8 104h0M721.9 104h0M723.1 104h0M724.3 104h0M725.4 104h0M726.6 104h0M727.7 104h0M728.9 104h0M730.1 104h0M731.2 104h0M732.4 104h0M733.6 104h0M734.7 104h0M735.9 104h0M737 104h0M738.2 104h0M739.4 104h0M740.5 104h0M741.7 104h0M742.9 104h0M744 104h0M745.2 104h0M746.3 104h0M747.5 104h0M748.7 104h0M749.8 104h0M751 104h0M752.1 104h0M753.3 104h0M754.5 104h0M755.6 104h0M756.8 104h0M758 104h0M759.1 104h0M760.3 104h0M761.4 104h0M762.6 104h0M763.8 104h0M764.9 104h0M766.1 104h0M767.3 104h0M768.4 104h0M769.6 104h0M770.7 104h0M771.9 104h0M773.1 104h0M774.2 104h0M775.4 104h0M776.6 104h0M777.7 104h0M778.9 104h0M780 104h0M781.2 104h0M782.4 104h0M783.5 104h0M784.7 104h0M785.8 104h0M787 104h0M788.2 104h0M789.3 104h0M790.5 104h0M791.7 104h0M792.8 104h0M794 104h0M795.1 104h0M796.3 104h0M797.5 104h0M798.6 104h0M799.8 104h0M801 104h0M802.1 104h0M803.3 104h0M804.4 104h0M805.6 104h0M805.6 103.6h0M804.2 103.6h0M802.8 103.6h0M801.4 103.6h0M800 103.6h0M798.6 103.6h0M797.2 103.6h0M795.8 103.6h0M794.4 103.6h0M793 103.6h0M791.6 103.6h0M790.3 103.6h0M788.9 103.6h0M787.5 103.6h0M786.1 103.6h0M784.7 103.6h0M783.3 103.6h0M781.9 103.6h0M780.5 103.6h0M779.1 103.6h0M777.7 103.6h0M776.3 103.6h0M774.9 103.6h0M773.5 103.6h0M772.1 103.6h0M770.7 103.6h0M769.3 103.6h0M767.9 103.6h0M766.5 103.6h0M765.1 103.6h0M763.7 103.6h0M762.3 103.6h0M761 103.6h0M759.6 103.6h0M758.2 103.6h0M756.8 103.6h0M755.4 103.6h0M754 103.6h0M752.6 103.6h0M751.2 103.6h0M749.8 103.6h0M748.4 103.6h0M747 103.6h0M745.6 103.6h0M744.2 103.6h0M742.8 103.6h0M741.4 103.6h0M740 103.6h0M738.6 103.6h0M737.2 103.6h0M735.8 103.6h0M734.4 103.6h0M733 103.6h0M731.7 103.6h0M730.3 103.6h0M728.9 103.6h0M727.5 103.6h0M726.1 103.6h0M724.7 103.6h0M723.3 103.6h0M721.9 103.6h0M720.5 103.6h0M719.1 103.6h0M717.7 103.6h0M716.3 103.6h0M714.9 103.6h0M713.5 103.6h0M712.1 103.6h0M710.7 103.6h0M709.3 103.6h0M707.9 103.6h0M706.5 103.6h0M705.1 103.6h0M703.8 103.6h0M702.4 103.6h0M701 103.6h0M699.6 103.6h0M698.2 103.6h0M696.8 103.6h0M695.4 103.6h0M694 103.6h0M692.6 103.6h0M691.2 103.6h0M689.8 103.6h0M688.4 103.6h0M687 103.6h0M685.6 103.6h0M684.2 103.6h0M682.8 103.6h0M681.4 103.6h0M680 103.6h0M678.6 103.6h0M677.2 103.6h0M675.8 103.6h0M674.5 103.6h0M673.1 103.6h0M671.7 103.6h0M670.3 103.6h0M668.9 103.6h0M667.5 103.6h0M666.1 103.6h0M664.7 103.6h0M663.3 103.6h0M661.9 103.6h0M660.5 103.6h0M659.1 103.6h0M657.7 103.6h0M656.3 103.6h0M654.9 103.6h0M653.5 103.6h0M652.1 103.6h0M650.7 103.6h0M649.3 103.6h0M647.9 103.6h0M646.5 103.6h0M645.2 103.6h0M643.8 103.6h0M642.4 103.6h0M641 103.6h0M639.6 103.6h0M638.2 103.6h0M636.8 103.6h0M635.4 103.6h0M634 103.6h0M632.6 103.6h0M631.2 103.6h0M629.8 103.6h0M628.4 103.6h0M627 103.6h0M625.6 103.6h0M624.2 103.6h0M622.8 103.6h0M621.4 103.6h0M620 103.6h0M618.6 103.6h0M617.2 103.6h0M615.9 103.6h0M614.5 103.6h0M613.1 103.6h0M611.7 103.6h0M610.3 103.6h0M608.9 103.6h0M607.5 103.6h0M606.1 103.6h0M604.7 103.6h0M603.3 103.6h0M601.9 103.6h0M600.5 103.6h0M599.1 103.6h0M597.7 103.6h0M596.3 103.6h0M594.9 103.6h0M593.5 103.6h0M592.1 103.6h0M590.7 103.6h0M589.3 103.6h0M587.9 103.6h0M586.6 103.6h0M585.2 103.6h0M583.8 103.6h0M582.4 103.6h0M581 103.6h0M579.6 103.6h0M578.2 103.6h0M576.8 103.6h0M575.4 103.6h0M574 103.6h0M572.6 103.6h0M571.2 103.6h0M569.8 103.6h0M568.4 103.6h0M567 103.6h0M565.6 103.6h0M564.2 103.6h0M562.8 103.6h0M561.4 103.6h0M560 103.6h0M558.6 103.6h0M557.3 103.6h0M555.9 103.6h0M554.5 103.6h0M553.1 103.6h0M551.7 103.6h0M550.3 103.6h0M548.9 103.6h0M547.5 103.6h0M546.1 103.8h0M544.7 104.6h0M543.3 105.4h0M541.9 106.2h0M540.5 107h0M539.1 107.8h0M537.7 108.6h0M536.3 109.4h0M534.9 110.2h0M533.5 110.9h0M532.1 111.7h0M530.7 112.5h0M529.3 113.3h0M528 114.1h0M526.6 114.9h0M525.2 115.7h0M523.8 116.5h0M522.4 117.3h0M521 118.2h0M519.6 119h0M518.2 119.8h0M516.8 120.7h0M515.4 121.8h0M514 122.9h0M512.6 124h0M511.2 125.1h0M509.8 126.2h0M508.4 127.3h0M507.5 128.2h0M506.6 129h0M505.6 129.8h0M504.7 130.7h0M503.8 131.5h0M502.8 132.3h0M501.9 133.1h0M501 134.1h0M500.1 135.1h0M499.1 136.2h0M498.2 137.2h0M497.3 138.2h0M496.3 139.3h0M495.4 140.3h0M494.5 141.5h0M493.5 142.7h0M492.6 144h0M491.7 145.3h0M490.7 146.6h0M489.8 147.9h0M488.9 149.2h0M488 150.7h0M487 152.3h0M486.1 153.8h0M485.2 155.4h0M484.2 156.9h0M483.3 158.6h0M482.4 160.4h0M481.4 162.2h0M480.5 164h0M479.6 165.9h0M478.7 167.8h0M477.7 170h0M476.8 172.2h0M475.9 174.4h0M474.9 176.7h0M474.5 177.9h0M474 179.2h0M473.5 180.4h0M473.1 181.6h0M472.6 182.9h0M472.1 184.1h0M471.7 185.6h0M471.2 187.3h0M470.8 188.9h0M470.3 190.6h0M469.8 192.2h0M469.4 193.8h0M468.9 195.4h0M468.4 196.9h0M468 198.5h0M467.5 200h0M467 202.3h0M466.6 204.7h0M466.1 207h0M450 222h0M449.5 214.6h0M449.1 210.6h0M448.6 207.1h0M448.1 204h0M447.7 201h0M447.2 198.4h0M446.7 195.8h0M446.3 193.5h0M445.8 191.2h0M445.4 189h0M444.9 187h0M444.4 185h0M444 183h0M443.5 181h0M443 179.2h0M442.6 177.4h0M442.1 175.6h0M441.6 174h0M441.2 172.5h0M440.7 171.1h0M440.2 169.8h0M439.8 168.6h0M439.3 167.4h0M438.8 166.3h0M437.9 164.2h0M437 162.2h0M436.1 160.1h0M435.1 158.1h0M434.2 156h0M433.3 153.9h0M432.3 152h0M431.4 150.3h0M430.5 148.8h0M429.6 147.3h0M428.6 146h0M427.7 144.8h0M426.8 143.6h0M425.8 142.4h0M424.9 141.3h0M424 140.2h0M423.1 139.2h0M422.1 138.2h0M421.2 137.2h0M420.3 136.3h0M419.3 135.4h0M418.4 134.5h0M417.5 133.6h0M416.5 132.8h0M415.6 132h0M414.7 131.2h0M413.8 130.5h0M412.4 129.4h0M411 128.3h0M409.6 127.2h0M408.2 126.1h0M406.8 125.1h0M405.4 124h0M404 123h0M402.6 122h0M401.2 121.1h0M399.8 120.1h0M398.4 119.2h0M397 118.2h0M395.6 117.3h0M394.2 116.3h0M392.8 115.4h0M391.5 114.4h0M390.1 113.5h0M388.7 112.5h0M387.3 111.5h0M385.9 110.6h0M384.5 109.6h0M383.1 108.7h0M381.7 107.7h0M380.3 106.8h0M378.9 105.9h0M377.5 104.9h0M376.1 104h0M374.7 103.5h0M373.3 103.2h0M371.9 103.1h0M370.5 103.1h0M369.2 103.2h0M367.8 103.4h0M366.4 103.9h0M365 104.6h0M364 105.4h0M363.1 106.4h0M362.2 107.6h0M361.7 108.1h0M361 109h0M363.3 117h0M363.3 124.6h0M360.6 138h0M352.6 138h0M342 132.6h0M341 143.3h0M336.6 154h0M335 157.7h0M326.5 140.6h0M326 148.6h0M326 154h0M325.7 181.2h0M323.4 205.5h0M323.4 205.5h0M322 204.6h0M320.6 203.7h0M319.2 202.8h0M317.8 201.8h0M316.4 200.9h0M315.1 200h0M313.7 199.1h0M312.3 198.2h0M310.9 197.2h0M309.5 196.3h0M308.1 195.4h0M306.7 194.4h0M305.3 193.5h0M303.9 192.5h0M302.5 191.6h0M301.1 190.7h0M299.7 189.8h0M298.4 189h0M297 188.2h0M295.6 187.3h0M294.2 186.5h0M292.8 185.7h0M291.4 185h0M290 184.2h0M288.6 183.4h0M287.2 182.5h0M285.8 181.8h0M284.4 181h0M283 180.2h0M281.7 179.4h0M280.3 178.6h0M278.9 177.8h0M277.5 176.9h0M276.1 176.1h0M274.7 175.1h0M273.3 174.2h0M271.9 173.2h0M270.5 172.2h0M269.1 171.2h0M267.7 170.2h0M266.3 169.2h0M265 168.1h0M263.6 167.1h0M262.2 166.1h0M260.8 165.1h0M259.4 164.1h0M258 163.2h0M256.6 162.2h0M255.2 161.2h0M253.8 160.2h0M252.4 159.2h0M251 158.2h0M249.6 157.2h0M248.3 156.2h0M246.9 155.2h0M245.5 154.1h0M244.1 153.1h0M242.7 152h0M241.3 151h0M239.9 149.9h0M238.5 148.9h0M237.1 147.8h0M235.7 146.8h0M234.3 145.8h0M232.9 144.8h0M231.6 143.8h0M230.2 142.9h0M228.8 141.9h0M227.4 140.9h0M226 140h0M224.6 139.2h0M224.6 140h0M225.1 141.4h0M225.5 142.8h0M226 144.3h0M226.5 145.7h0M226.9 147h0M227.4 148.3h0M227.9 149.5h0M228.8 151.6h0M229.7 153.3h0M230.6 154.9h0M231.6 156.3h0M232.5 157.6h0M233.4 158.8h0M234.4 160h0M235.3 161.2h0M236.2 162.3h0M237.2 163.3h0M238.1 164.3h0M239 165.3h0M239.9 166.2h0M240.9 167.1h0M241.8 168h0M242.7 168.9h0M243.7 169.7h0M244.6 170.6h0M245.5 171.5h0M246.5 172.4h0M247.4 173.2h0M248.3 174.1h0M249.2 174.9h0M250.2 175.8h0M251.1 176.6h0M252 177.4h0M253 178.3h0M253.9 179.1h0M254.8 179.9h0M255.8 180.8h0M256.7 181.6h0M257.6 182.5h0M258.5 183.3h0M259.5 184.2h0M260.4 185.1h0M261.3 185.9h0M262.3 186.8h0M263.2 187.7h0M264.1 188.5h0M265.1 189.4h0M266 190.2h0M266.9 191h0M267.8 191.9h0M268.8 192.7h0M269.7 193.5h0M270.6 194.3h0M271.6 195h0M272.5 195.8h0M273.4 196.6h0M274.4 197.3h0M275.3 198.1h0M276.2 198.9h0M277.1 199.6h0M278.1 200.4h0M279 201.2h0M279.9 201.9h0M280.9 202.7h0M281.8 203.5h0M282.7 204.3h0M283.7 205.1h0M284.6 205.9h0M285.5 206.7h0M286.4 207.5h0M287.4 208.2h0M288.3 209h0M289.2 209.8h0M290.2 210.6h0M291.1 211.4h0M292 212.2h0M293 213h0M293.9 213.7h0M294.8 214.5h0M295.7 215.3h0M296.7 216h0M297.6 216.8h0M298.5 217.6h0M299.5 218.3h0M300.4 219.1h0M301.3 219.9h0M302.3 220.6h0M303.2 221.4h0M304.1 222.2h0M305 223h0M306 223.9h0M306.9 224.7h0M307.8 225.5h0M308.8 226.4h0M309.7 227.2h0M310.6 228.1h0M311.6 229h0M312.5 229.9h0M313.4 230.8h0M314.3 231.7h0M315.3 232.6h0M316.2 233.5h0M317.1 234.5h0M318.1 235.4h0M319 236.4h0M319.9 237.4h0M320.9 238.4h0M321.8 239.4h0M322.7 240.4h0M323.6 241.4h0M324.6 242.4h0M325.5 243.4h0M326.4 244.4h0M327.4 245.4h0M328.3 246.3h0M329.2 247.2h0M330.2 248.1h0M331.1 249h0M332 249.9h0M332.9 250.8h0M333.9 251.7h0M334.8 252.5h0M335.7 253.4h0M336.7 254.2h0M337.6 255.1h0M338.5 256h0M339.5 256.8h0M340.4 257.7h0M341.3 258.5h0M342.3 259.4h0M343.2 260.2h0M344.1 261h0M345 261.9h0M346 262.7h0M346.9 263.6h0M347.8 264.4h0M348.8 265.2h0M349.7 266h0M350.6 266.8h0M351.6 267.6h0M352.5 268.4h0M353.4 269.2h0M354.8 270.3h0M356.2 271.4h0M357.6 272.5h0M359 273.6h0M360.4 274.7h0M361.8 275.8h0M362.7 276.6h0M363.6 277.4h0M364.6 278.2h0M365.5 279h0M366.4 279.8h0M367.4 280.7h0M368.3 281.6h0M369.2 282.5h0M370.2 283.4h0M371.1 284.3h0M372 285.2h0M372.9 286.1h0M373.9 287.1h0M374.8 288h0M375.7 289h0M376.7 289.9h0M377.6 290.8h0M378.5 291.8h0M379.5 292.7h0M380.4 293.7h0M381.3 294.6h0M382.2 295.6h0M383.2 296.5h0M384.1 297.5h0M385 298.4h0M386 299.4h0M386.9 300.3h0M387.8 301.2h0M388.8 302.1h0M389.7 303.1h0M390.6 304h0M391.5 304.9h0M392.5 305.8h0M393.4 306.7h0M394.3 307.7h0M395.3 308.6h0M396.2 309.5h0M397.1 310.4h0M398.1 311.3h0M399 312.3h0M399.9 313.2h0M400.8 314.1h0M401.8 315.1h0M402.7 316h0M403.6 317h0M404.6 317.9h0M405.5 318.9h0M406.4 319.9h0M407.4 320.9h0M408.3 322h0M409.2 323.1h0M410.1 324.3h0M411.1 325.6h0M412 326.9h0M412.9 328.4h0M413.9 329.8h0M414.8 331.2h0M415.7 332.7h0M416.7 334.3h0M417.6 335.9h0M418.5 337.6h0M419.4 339.3h0M420.4 340.9h0M421.3 342.5h0M422.2 344h0M423.2 345.6h0M424.1 347.2h0M425 349h0M426 350.9h0M426.9 353.3h0M427.3 354.7h0M427.8 356.4h0M428.3 358.2h0M428.7 360.1h0M429.2 362h0M429.7 363.8h0M430.1 365.4h0M430.6 366.8h0M431.1 368h0M431.5 369.2h0M432.5 371.3h0M433.4 373.3h0M434.3 375.5h0M434.8 376.6h0M435.3 377.8h0M435.7 379.1h0M436.2 380.6h0M436.6 382.2h0M437.1 383.8h0M437.6 385.6h0M438 387.4h0M438.5 389.2h0M439 391.1h0M439.4 393h0M439.9 395h0M440.4 396.9h0M440.8 398.8h0M441.3 400.7h0M441.8 402.6h0M442.2 404.4h0M442.7 406.3h0M443.2 408.2h0M443.6 410.1h0M444.1 412.1h0M444.6 414.1h0M445 416.1h0M445.5 418.1h0M445.9 420.2h0M446.4 422.3h0M446.9 424.5h0M447.3 426.7h0M447.8 429h0M448.3 431.5h0M448.7 434h0M449.2 436.7h0M449.7 439.5h0M450.1 442.2h0M450.6 445h0M450.6 445h0M451.1 456.2h0M452.2 469h0M453.8 487.6h0M455.9 522.7h0M458.6 510.5h0M460.7 477.5h0M462.3 457.7h0M463.9 444h0M465.5 432h0M466.1 207h0M465.4 214.6h0M464.7 225.8h0M462.6 239.1h0M461.2 258.7h0M458.4 290.9h0M455.6 313.2h0M454 278.7h0M453.3 258.7h0M451.3 245.3h0M448 229.3h0M450 220h0" fill="none" stroke="#ff0000" stroke-width="13.0" stroke-linecap="round"/>
<rect x="155.2" y="26.0" width="708.5999999999999" height="598.9" fill="none" stroke="#000" stroke-width="3.8" stroke-linejoin="round"/>
<line x1="155.2" y1="136.8" x2="166.2" y2="136.8" stroke="#000" stroke-width="3.8" stroke-linecap="round"/>
<line x1="155.2" y1="247.7" x2="166.2" y2="247.7" stroke="#000" stroke-width="3.8" stroke-linecap="round"/>
<line x1="155.2" y1="358.6" x2="166.2" y2="358.6" stroke="#000" stroke-width="3.8" stroke-linecap="round"/>
<line x1="155.2" y1="469.5" x2="166.2" y2="469.5" stroke="#000" stroke-width="3.8" stroke-linecap="round"/>
<line x1="155.2" y1="580.4" x2="166.2" y2="580.4" stroke="#000" stroke-width="3.8" stroke-linecap="round"/>
<line x1="224.6" y1="624.9" x2="224.6" y2="613.7" stroke="#000" stroke-width="3.8" stroke-linecap="round"/>
<line x1="340.8" y1="624.9" x2="340.8" y2="613.7" stroke="#000" stroke-width="3.8" stroke-linecap="round"/>
<line x1="457" y1="624.9" x2="457" y2="613.7" stroke="#000" stroke-width="3.8" stroke-linecap="round"/>
<line x1="573.2" y1="624.9" x2="573.2" y2="613.7" stroke="#000" stroke-width="3.8" stroke-linecap="round"/>
<line x1="689.4" y1="624.9" x2="689.4" y2="613.7" stroke="#000" stroke-width="3.8" stroke-linecap="round"/>
<line x1="805.6" y1="624.9" x2="805.6" y2="613.7" stroke="#000" stroke-width="3.8" stroke-linecap="round"/>
<text transform="translate(82.70,42.40) scale(0.6977,1)" font-size="45.60" fill="#000" stroke="#000" stroke-width="0.50" style="font-kerning:none" >1</text>
<text transform="translate(100.97,42.36) scale(1.0075,1)" font-size="45.20" fill="#000" stroke="#000" stroke-width="0.50" style="font-kerning:none" >0</text>
<text transform="translate(123.65,17.95) scale(0.8826,1)" font-size="25.90" fill="#000" stroke="#000" stroke-width="0.50" style="font-kerning:none" >-3</text>
<text transform="translate(82.70,153.30) scale(0.6977,1)" font-size="45.60" fill="#000" stroke="#000" stroke-width="0.50" style="font-kerning:none" >1</text>
<text transform="translate(100.97,153.26) scale(1.0075,1)" font-size="45.20" fill="#000" stroke="#000" stroke-width="0.50" style="font-kerning:none" >0</text>
<text transform="translate(123.61,129.10) scale(0.9114,1)" font-size="26.44" fill="#000" stroke="#000" stroke-width="0.50" style="font-kerning:none" >-4</text>
<text transform="translate(82.70,264.20) scale(0.6977,1)" font-size="45.60" fill="#000" stroke="#000" stroke-width="0.50" style="font-kerning:none" >1</text>
<text transform="translate(100.97,264.16) scale(1.0075,1)" font-size="45.20" fill="#000" stroke="#000" stroke-width="0.50" style="font-kerning:none" >0</text>
<text transform="translate(123.58,239.74) scale(0.9487,1)" font-size="26.18" fill="#000" stroke="#000" stroke-width="0.50" style="font-kerning:none" >-5</text>
<text transform="translate(82.70,375.10) scale(0.6977,1)" font-size="45.60" fill="#000" stroke="#000" stroke-width="0.50" style="font-kerning:none" >1</text>
<text transform="translate(100.97,375.06) scale(1.0075,1)" font-size="45.20" fill="#000" stroke="#000" stroke-width="0.50" style="font-kerning:none" >0</text>
<text transform="translate(123.59,350.65) scale(0.9476,1)" font-size="25.90" fill="#000" stroke="#000" stroke-width="0.50" style="font-kerning:none" >-6</text>
<text transform="translate(82.70,486.00) scale(0.6977,1)" font-size="45.60" fill="#000" stroke="#000" stroke-width="0.50" style="font-kerning:none" >1</text>
<text transform="translate(100.97,485.96) scale(1.0075,1)" font-size="45.20" fill="#000" stroke="#000" stroke-width="0.50" style="font-kerning:none" >0</text>
<text transform="translate(123.59,461.80) scale(0.9223,1)" font-size="26.57" fill="#000" stroke="#000" stroke-width="0.50" style="font-kerning:none" >-7</text>
<text transform="translate(82.70,596.90) scale(0.6977,1)" font-size="45.60" fill="#000" stroke="#000" stroke-width="0.50" style="font-kerning:none" >1</text>
<text transform="translate(100.97,596.86) scale(1.0075,1)" font-size="45.20" fill="#000" stroke="#000" stroke-width="0.50" style="font-kerning:none" >0</text>
<text transform="translate(123.58,572.45) scale(0.9621,1)" font-size="25.79" fill="#000" stroke="#000" stroke-width="0.50" style="font-kerning:none" >-8</text>
<text transform="translate(191.31,670.17) scale(0.9718,1)" font-size="44.61" fill="#000" stroke="#000" stroke-width="0.50" style="font-kerning:none" >-1.0</text>
<text transform="translate(307.53,670.17) scale(0.9718,1)" font-size="44.61" fill="#000" stroke="#000" stroke-width="0.50" style="font-kerning:none" >-0.5</text>
<text transform="translate(430.91,670.17) scale(0.9718,1)" font-size="44.61" fill="#000" stroke="#000" stroke-width="0.50" style="font-kerning:none" >0.0</text>
<text transform="translate(547.13,670.17) scale(0.9718,1)" font-size="44.61" fill="#000" stroke="#000" stroke-width="0.50" style="font-kerning:none" >0.5</text>
<text transform="translate(662.23,670.17) scale(0.9718,1)" font-size="44.61" fill="#000" stroke="#000" stroke-width="0.50" style="font-kerning:none" >1.0</text>
<text transform="translate(778.45,670.16) scale(0.9648,1)" font-size="44.93" fill="#000" stroke="#000" stroke-width="0.50" style="font-kerning:none" >1.5</text>
<text transform="translate(386.06,728.58) scale(0.9583,1)" font-size="50.13" fill="#000" stroke="#000" stroke-width="0.50" style="font-kerning:none" >Voltage (V)</text>
<text transform="translate(44.04,450.15) rotate(-90) scale(0.9704,1)" font-size="51.50" fill="#000" stroke="#000" stroke-width="0.50" style="font-kerning:none" >Current (A)</text>
<text transform="translate(-1.37,60.48) scale(0.9531,1)" font-size="56.47" fill="#000" stroke="#000" stroke-width="0.50" style="font-kerning:none" >(a)</text>
<path d="M494.7 511.8 L590.5 511.8" fill="none" stroke="#000" stroke-width="4" stroke-linejoin="round" stroke-linecap="round" />
<path d="M542.6 511.6h0" fill="none" stroke="#000" stroke-width="12.7" stroke-linecap="square"/>
<text transform="translate(601.83,525.17) scale(0.9736,1)" font-size="44.20" fill="#000" stroke="#000" stroke-width="0.50" style="font-kerning:none" >Cu/ZnO/Pt</text>
<path d="M494.7 566.6 L590.5 566.6" fill="none" stroke="#ff0000" stroke-width="4" stroke-linejoin="round" stroke-linecap="round" />
<path d="M542.6 566.6h0" fill="none" stroke="#ff0000" stroke-width="13.5" stroke-linecap="round"/>
<text transform="translate(601.84,580.19) scale(0.9944,1)" font-size="43.18" fill="#000" stroke="#000" stroke-width="0.50" style="font-kerning:none" >Cu/ZnO:Cu/Pt</text>
<text transform="translate(177.09,79.13) scale(0.9080,1)" font-size="48.52" fill="#000" stroke="#000" stroke-width="0.50" style="font-kerning:none" >3</text>
<text transform="translate(750.14,71.60) scale(1.0632,1)" font-size="48.33" fill="#000" stroke="#000" stroke-width="0.50" style="font-kerning:none" >2</text>
<text transform="translate(303.21,418.40) scale(0.9455,1)" font-size="48.47" fill="#000" stroke="#000" stroke-width="0.50" style="font-kerning:none" >4</text>
<text transform="translate(588.15,419.50) scale(0.7149,1)" font-size="48.47" fill="#000" stroke="#000" stroke-width="0.50" style="font-kerning:none" >1</text>
<path d="M296.7 65.7 Q265 65.2 234 73" fill="none" stroke="#000" stroke-width="3.9" stroke-linecap="round"/>
<path d="M205.8 77.5 L233.2 72.6 L232.3 85.0 Z" fill="#000" stroke="#000" stroke-width="1.5" stroke-linejoin="round"/>
<path d="M804.5 89.1 L740 89.1" fill="none" stroke="#000" stroke-width="4.4" stroke-linecap="round"/>
<path d="M713.7 89.1 L741.5 81 L741.5 97.4 Z" fill="#000" stroke="#000" stroke-width="1.5" stroke-linejoin="round"/>
<path d="M316.7 336.9 L367 393" fill="none" stroke="#000" stroke-width="4" stroke-linecap="round"/>
<path d="M380.1 413.1 L357.8 398 L369.5 388.5 Z" fill="#000" stroke="#000" stroke-width="1.5" stroke-linejoin="round"/>
<path d="M540.9 417.5 Q555 375 594 350" fill="none" stroke="#000" stroke-width="4" stroke-linecap="round"/>
<path d="M615.3 335.8 L590.3 348.6 L601.3 359.9 Z" fill="#000" stroke="#000" stroke-width="1.5" stroke-linejoin="round"/>
<path d="M1287.1 546.5 L1363.1 521.8 L1391 497.1 L1395 472.5 L1416.8 447.8 L1431.5 423.1 L1443.6 398.4 L1446.7 373.7 L1507.4 349 L1520.6 324.4 L1538.8 299.7 L1560.1 275 L1583.9 250.3 L1587.9 225.6 L1636 200.9 L1637.6 176.2 L1640.6 151.6 L1680.6 126.9 L1735.8 102.2 L1787.5 77.5" fill="none" stroke="#000" stroke-width="3.6" stroke-linejoin="round" stroke-linecap="round" />
<path d="M1287.1 546.5h0M1363.1 521.8h0M1391 497.1h0M1395 472.5h0M1416.8 447.8h0M1431.5 423.1h0M1443.6 398.4h0M1446.7 373.7h0M1507.4 349h0M1520.6 324.4h0M1538.8 299.7h0M1560.1 275h0M1583.9 250.3h0M1587.9 225.6h0M1636 200.9h0M1637.6 176.2h0M1640.6 151.6h0M1680.6 126.9h0M1735.8 102.2h0M1787.5 77.5h0" fill="none" stroke="#000" stroke-width="13.2" stroke-linecap="square"/>
<path d="M1151.4 546.5 L1178.3 521.8 L1207.6 497.1 L1210.7 472.5 L1218.8 447.8 L1221.3 423.1 L1221.3 398.4 L1234.5 373.7 L1238.5 349 L1245.6 324.4 L1248.7 299.7 L1250.7 275 L1250.7 250.3 L1265.9 225.6 L1280.1 200.9 L1282.6 176.2 L1296.3 151.6 L1295.7 126.9 L1331.7 102.2 L1363.6 77.5" fill="none" stroke="#ff0000" stroke-width="3.6" stroke-linejoin="round" stroke-linecap="round" />
<path d="M1151.4 546.5h0M1178.3 521.8h0M1207.6 497.1h0M1210.7 472.5h0M1218.8 447.8h0M1221.3 423.1h0M1221.3 398.4h0M1234.5 373.7h0M1238.5 349h0M1245.6 324.4h0M1248.7 299.7h0M1250.7 275h0M1250.7 250.3h0M1265.9 225.6h0M1280.1 200.9h0M1282.6 176.2h0M1296.3 151.6h0M1295.7 126.9h0M1331.7 102.2h0M1363.6 77.5h0" fill="none" stroke="#ff0000" stroke-width="14.2" stroke-linecap="round"/>
<rect x="1085.2" y="28.4" width="750.0" height="592.4" fill="none" stroke="#000" stroke-width="3.9" stroke-linejoin="round"/>
<line x1="1085.2" y1="571.2" x2="1098.2" y2="571.2" stroke="#000" stroke-width="3.9" stroke-linecap="round"/>
<line x1="1085.2" y1="472.5" x2="1098.2" y2="472.5" stroke="#000" stroke-width="3.9" stroke-linecap="round"/>
<line x1="1085.2" y1="373.7" x2="1098.2" y2="373.7" stroke="#000" stroke-width="3.9" stroke-linecap="round"/>
<line x1="1085.2" y1="275" x2="1098.2" y2="275" stroke="#000" stroke-width="3.9" stroke-linecap="round"/>
<line x1="1085.2" y1="176.2" x2="1098.2" y2="176.2" stroke="#000" stroke-width="3.9" stroke-linecap="round"/>
<line x1="1085.2" y1="77.5" x2="1098.2" y2="77.5" stroke="#000" stroke-width="3.9" stroke-linecap="round"/>
<line x1="1111.4" y1="620.8" x2="1111.4" y2="608.2" stroke="#000" stroke-width="3.9" stroke-linecap="round"/>
<line x1="1218.8" y1="620.8" x2="1218.8" y2="608.2" stroke="#000" stroke-width="3.9" stroke-linecap="round"/>
<line x1="1326.2" y1="620.8" x2="1326.2" y2="608.2" stroke="#000" stroke-width="3.9" stroke-linecap="round"/>
<line x1="1433.6" y1="620.8" x2="1433.6" y2="608.2" stroke="#000" stroke-width="3.9" stroke-linecap="round"/>
<line x1="1541" y1="620.8" x2="1541" y2="608.2" stroke="#000" stroke-width="3.9" stroke-linecap="round"/>
<line x1="1648.4" y1="620.8" x2="1648.4" y2="608.2" stroke="#000" stroke-width="3.9" stroke-linecap="round"/>
<line x1="1755.8" y1="620.8" x2="1755.8" y2="608.2" stroke="#000" stroke-width="3.9" stroke-linecap="round"/>
<text transform="translate(1051.70,583.28) scale(0.9959,1)" font-size="42.83" fill="#000" stroke="#000" stroke-width="0.50" style="font-kerning:none" >0</text>
<text transform="translate(1030.37,484.54) scale(0.9959,1)" font-size="42.83" fill="#000" stroke="#000" stroke-width="0.50" style="font-kerning:none" >20</text>
<text transform="translate(1030.37,385.80) scale(0.9959,1)" font-size="42.83" fill="#000" stroke="#000" stroke-width="0.50" style="font-kerning:none" >40</text>
<text transform="translate(1030.37,287.06) scale(0.9959,1)" font-size="42.83" fill="#000" stroke="#000" stroke-width="0.50" style="font-kerning:none" >60</text>
<text transform="translate(1030.37,188.32) scale(0.9959,1)" font-size="42.83" fill="#000" stroke="#000" stroke-width="0.50" style="font-kerning:none" >80</text>
<text transform="translate(1009.05,89.58) scale(0.9959,1)" font-size="42.83" fill="#000" stroke="#000" stroke-width="0.50" style="font-kerning:none" >100</text>
<text transform="translate(1083.53,664.99) scale(1.0303,1)" font-size="43.29" fill="#000" stroke="#000" stroke-width="0.50" style="font-kerning:none" >0.8</text>
<text transform="translate(1190.20,664.98) scale(1.0259,1)" font-size="43.47" fill="#000" stroke="#000" stroke-width="0.50" style="font-kerning:none" >1.2</text>
<text transform="translate(1297.03,664.98) scale(1.0259,1)" font-size="43.47" fill="#000" stroke="#000" stroke-width="0.50" style="font-kerning:none" >1.6</text>
<text transform="translate(1405.59,664.99) scale(1.0303,1)" font-size="43.29" fill="#000" stroke="#000" stroke-width="0.50" style="font-kerning:none" >2.0</text>
<text transform="translate(1512.49,664.98) scale(1.0259,1)" font-size="43.47" fill="#000" stroke="#000" stroke-width="0.50" style="font-kerning:none" >2.4</text>
<text transform="translate(1620.39,664.99) scale(1.0303,1)" font-size="43.29" fill="#000" stroke="#000" stroke-width="0.50" style="font-kerning:none" >2.8</text>
<text transform="translate(1728.09,664.98) scale(1.0259,1)" font-size="43.47" fill="#000" stroke="#000" stroke-width="0.50" style="font-kerning:none" >3.2</text>
<text transform="translate(1245.35,734.52) scale(1.0298,1)" font-size="49.03" fill="#000" stroke="#000" stroke-width="0.50" style="font-kerning:none" >Forming Voltage (V)</text>
<text transform="translate(974.88,584.55) rotate(-90) scale(0.9606,1)" font-size="52.00" fill="#000" stroke="#000" stroke-width="0.50" style="font-kerning:none" >Cumulative Probability</text>
<text transform="translate(929.67,57.86) scale(1.0165,1)" font-size="56.58" fill="#000" stroke="#000" stroke-width="0.50" style="font-kerning:none" >(b)</text>
<path d="M1438.3 503.6 L1540.6 503.6" fill="none" stroke="#000" stroke-width="4" stroke-linejoin="round" stroke-linecap="round" />
<path d="M1489 503.6h0" fill="none" stroke="#000" stroke-width="13.5" stroke-linecap="square"/>
<text transform="translate(1551.43,517.67) scale(1.0224,1)" font-size="44.50" fill="#000" stroke="#000" stroke-width="0.50" style="font-kerning:none" >Cu/ZnO/Pt</text>
<path d="M1438.3 558.5 L1540.6 558.5" fill="none" stroke="#ff0000" stroke-width="4" stroke-linejoin="round" stroke-linecap="round" />
<path d="M1489 558.3h0" fill="none" stroke="#ff0000" stroke-width="14.5" stroke-linecap="round"/>
<text transform="translate(1551.43,572.66) scale(1.0029,1)" font-size="45.40" fill="#000" stroke="#000" stroke-width="0.50" style="font-kerning:none" >Cu/ZnO:Cu/Pt</text>
<path d="M349.1 1313.2 L353.3 1303.3 L363.3 1291.6 L368.3 1276.6 L370.8 1268.3 L390 1265 L401.6 1253.3 L435 1246.6 L441.6 1238.3 L460 1231.6 L476.6 1226.6 L485 1216.6 L496.6 1205 L503.3 1191.6 L508.3 1178.3 L513.3 1168.3 L520 1166.6 L544 1160 L556 1146 L566 1130 L576 1114 L582 1108 L605 1103 L638 1098 L650 1088 L672 1079 L687 1070 L700 1065 L704 1056 L707 1040 L710 1024 L716 1010 L722 992 L732 978 L745 966 L760 955 L774 948 L778 936 L780 924 L786 910 L823 905" fill="none" stroke="#000" stroke-width="1.6" stroke-linejoin="round" stroke-linecap="round" />
<path d="M349.1 1313.2h0M350.9 1308.9h0M352.7 1304.6h0M355.8 1300.3h0M359.5 1296h0M363.2 1291.7h0M364.7 1287.4h0M366.1 1283.1h0M367.6 1278.8h0M368.9 1274.5h0M370.2 1270.2h0M384.5 1265.9h0M393.3 1261.7h0M397.6 1257.4h0M402.8 1253.1h0M424.2 1248.8h0M436.7 1244.5h0M440.1 1240.2h0M448.3 1235.9h0M460.1 1231.6h0M474.4 1227.3h0M479.6 1223h0M483.3 1218.7h0M487.2 1214.4h0M491.5 1210.1h0M495.8 1205.8h0M498.4 1201.5h0M500.5 1197.2h0M502.7 1192.9h0M504.4 1188.6h0M506 1184.3h0M507.7 1180h0M509.6 1175.7h0M511.7 1171.4h0M518 1167.1h0M533.7 1162.8h0M545.3 1158.5h0M548.9 1154.2h0M552.6 1149.9h0M556.2 1145.6h0M558.9 1141.3h0M561.6 1137h0M564.3 1132.7h0M567 1128.4h0M569.7 1124.1h0M572.3 1119.9h0M575 1115.6h0M578.7 1111.3h0M586.8 1107h0M607.2 1102.7h0M635.6 1098.4h0M642.7 1094.1h0M647.9 1089.8h0M656.2 1085.5h0M666.7 1081.2h0M675.5 1076.9h0M682.7 1072.6h0M691.5 1068.3h0M700.4 1064h0M702.4 1059.7h0M704.1 1055.4h0M704.9 1051.1h0M705.7 1046.8h0M706.5 1042.5h0M707.3 1038.2h0M708.1 1033.9h0M708.9 1029.6h0M709.8 1025.3h0M711.3 1021h0M713.1 1016.7h0M715 1012.4h0M716.6 1008.1h0M718.1 1003.8h0M719.5 999.5h0M720.9 995.2h0M722.8 990.9h0M725.8 986.6h0M728.9 982.3h0M732 978h0M736.6 973.8h0M741.3 969.5h0M746.1 965.2h0M752 960.9h0M757.9 956.6h0M765.5 952.3h0M774 948h0M775.4 943.7h0M776.9 939.4h0M778.2 935.1h0M778.9 930.8h0M779.6 926.5h0M780.8 922.2h0M782.6 917.9h0M784.5 913.6h0M791.2 909.3h0M823 905h0" fill="none" stroke="#000" stroke-width="10.8" stroke-linecap="square"/>
<path d="M275.8 1313.2 L278.3 1301.6 L285 1290 L298.3 1280 L298.3 1270 L310 1258.3 L321.6 1246.6 L325 1233.3 L328.3 1216.6 L333.3 1205 L348.3 1200 L363.3 1186.6 L373.3 1170 L378.3 1155 L380 1141.6 L383.3 1125 L396.6 1110 L410 1103.3 L417.6 1094.5 L422.3 1081.4 L426 1066.5 L427.9 1047.9 L441.8 1034.8 L445.6 1019.9 L445.6 1001.2 L446.5 986.3 L450.2 971.4 L455.8 960.2 L458.6 951.8 L482.9 947.1 L483.8 932.2 L487.5 919.2 L498.7 909.8 L509 905" fill="none" stroke="#ff0000" stroke-width="1.6" stroke-linejoin="round" stroke-linecap="round" />
<path d="M275.8 1313.2h0M276.6 1309.3h0M277.5 1305.5h0M278.3 1301.6h0M280 1298.7h0M281.6 1295.8h0M283.3 1292.9h0M285 1290h0M287.7 1288h0M290.3 1286h0M293 1284h0M295.6 1282h0M298.3 1280h0M298.3 1276.7h0M298.3 1273.3h0M298.3 1270h0M300.6 1267.7h0M303 1265.3h0M305.3 1263h0M307.7 1260.6h0M310 1258.3h0M312.3 1256h0M314.6 1253.6h0M317 1251.3h0M319.3 1248.9h0M321.6 1246.6h0M322.5 1243.3h0M323.3 1239.9h0M324.1 1236.6h0M325 1233.3h0M325.7 1230h0M326.3 1226.6h0M327 1223.3h0M327.6 1219.9h0M328.3 1216.6h0M329.6 1213.7h0M330.8 1210.8h0M332.1 1207.9h0M333.3 1205h0M348.3 1200h0M350.8 1197.8h0M353.3 1195.5h0M355.8 1193.3h0M358.3 1191.1h0M360.8 1188.8h0M363.3 1186.6h0M365 1183.8h0M366.6 1181.1h0M368.3 1178.3h0M370 1175.5h0M371.6 1172.8h0M373.3 1170h0M374.3 1167h0M375.3 1164h0M376.3 1161h0M377.3 1158h0M378.3 1155h0M378.7 1151.7h0M379.1 1148.3h0M379.6 1144.9h0M380 1141.6h0M380.7 1138.3h0M381.3 1135h0M382 1131.6h0M382.6 1128.3h0M383.3 1125h0M385.5 1122.5h0M387.7 1120h0M390 1117.5h0M392.2 1115h0M394.4 1112.5h0M396.6 1110h0M400 1108.3h0M403.3 1106.7h0M406.6 1105h0M410 1103.3h0M412.5 1100.4h0M415.1 1097.4h0M417.6 1094.5h0M418.8 1091.2h0M420 1088h0M421.1 1084.7h0M422.3 1081.4h0M423 1078.4h0M423.8 1075.4h0M424.5 1072.5h0M425.3 1069.5h0M426 1066.5h0M426.3 1063.4h0M426.6 1060.3h0M426.9 1057.2h0M427.3 1054.1h0M427.6 1051h0M427.9 1047.9h0M430.2 1045.7h0M432.5 1043.5h0M434.9 1041.3h0M437.2 1039.2h0M439.5 1037h0M441.8 1034.8h0M442.6 1031.8h0M443.3 1028.8h0M444.1 1025.9h0M444.8 1022.9h0M445.6 1019.9h0M445.6 1016.8h0M445.6 1013.7h0M445.6 1010.5h0M445.6 1007.4h0M445.6 1004.3h0M445.6 1001.2h0M445.8 997.5h0M446.1 993.8h0M446.3 990h0M446.5 986.3h0M447.2 983.3h0M448 980.3h0M448.7 977.4h0M449.5 974.4h0M450.2 971.4h0M451.6 968.6h0M453 965.8h0M454.4 963h0M455.8 960.2h0M457.2 956h0M458.6 951.8h0M482.9 947.1h0M483.1 943.4h0M483.4 939.7h0M483.6 935.9h0M483.8 932.2h0M484.7 929h0M485.6 925.7h0M486.6 922.5h0M487.5 919.2h0M490.3 916.9h0M493.1 914.5h0M495.9 912.1h0M498.7 909.8h0M502.1 908.2h0M505.6 906.6h0M509 905h0" fill="none" stroke="#ff0000" stroke-width="12.0" stroke-linecap="round"/>
<rect x="169.4" y="862.3" width="699.5" height="515.8" fill="none" stroke="#404040" stroke-width="4.4" stroke-linejoin="round"/>
<line x1="169.4" y1="1334.7" x2="181.9" y2="1334.7" stroke="#404040" stroke-width="4.0" stroke-linecap="round"/>
<line x1="169.4" y1="1248.8" x2="181.9" y2="1248.8" stroke="#404040" stroke-width="4.0" stroke-linecap="round"/>
<line x1="169.4" y1="1162.8" x2="181.9" y2="1162.8" stroke="#404040" stroke-width="4.0" stroke-linecap="round"/>
<line x1="169.4" y1="1076.9" x2="181.9" y2="1076.9" stroke="#404040" stroke-width="4.0" stroke-linecap="round"/>
<line x1="169.4" y1="990.9" x2="181.9" y2="990.9" stroke="#404040" stroke-width="4.0" stroke-linecap="round"/>
<line x1="169.4" y1="905" x2="181.9" y2="905" stroke="#404040" stroke-width="4.0" stroke-linecap="round"/>
<line x1="286" y1="1378.1" x2="286" y2="1365.6" stroke="#404040" stroke-width="4.0" stroke-linecap="round"/>
<line x1="402.6" y1="1378.1" x2="402.6" y2="1365.6" stroke="#404040" stroke-width="4.0" stroke-linecap="round"/>
<line x1="519.1" y1="1378.1" x2="519.1" y2="1365.6" stroke="#404040" stroke-width="4.0" stroke-linecap="round"/>
<line x1="635.7" y1="1378.1" x2="635.7" y2="1365.6" stroke="#404040" stroke-width="4.0" stroke-linecap="round"/>
<line x1="752.3" y1="1378.1" x2="752.3" y2="1365.6" stroke="#404040" stroke-width="4.0" stroke-linecap="round"/>
<text transform="translate(137.25,1343.94) scale(1.1014,1)" font-size="36.45" fill="#151515" style="font-kerning:none" >0</text>
<text transform="translate(117.18,1258.00) scale(1.1014,1)" font-size="36.45" fill="#151515" style="font-kerning:none" >20</text>
<text transform="translate(117.18,1172.06) scale(1.1014,1)" font-size="36.45" fill="#151515" style="font-kerning:none" >40</text>
<text transform="translate(117.18,1086.12) scale(1.1014,1)" font-size="36.45" fill="#151515" style="font-kerning:none" >60</text>
<text transform="translate(117.18,1000.18) scale(1.1014,1)" font-size="36.45" fill="#151515" style="font-kerning:none" >80</text>
<text transform="translate(97.10,914.24) scale(1.1014,1)" font-size="36.45" fill="#151515" style="font-kerning:none" >100</text>
<text transform="translate(143.46,1418.18) scale(1.0864,1)" font-size="36.81" fill="#151515" style="font-kerning:none" >0.4</text>
<text transform="translate(260.32,1418.18) scale(1.0864,1)" font-size="36.81" fill="#151515" style="font-kerning:none" >0.6</text>
<text transform="translate(377.07,1418.18) scale(1.0864,1)" font-size="36.81" fill="#151515" style="font-kerning:none" >0.8</text>
<text transform="translate(492.65,1418.18) scale(1.0864,1)" font-size="36.81" fill="#151515" style="font-kerning:none" >1.0</text>
<text transform="translate(609.57,1418.18) scale(1.0818,1)" font-size="36.97" fill="#151515" style="font-kerning:none" >1.2</text>
<text transform="translate(725.36,1418.18) scale(1.0786,1)" font-size="37.07" fill="#151515" style="font-kerning:none" >1.4</text>
<text transform="translate(842.22,1418.18) scale(1.0818,1)" font-size="36.97" fill="#151515" style="font-kerning:none" >1.6</text>
<text transform="translate(23.25,884.24) scale(1.0639,1)" font-size="48.19" fill="#151515" style="font-kerning:none" >(c)</text>
<text transform="translate(70.84,1350.42) rotate(-90) scale(1.0454,1)" font-size="44.74" fill="#151515" style="font-kerning:none" >Cumulative Probability</text>
<text transform="translate(452.23,1486.07) scale(1.0051,1)" font-size="41.95" fill="#151515" style="font-kerning:none" >V</text>
<text transform="translate(484.61,1486.40) scale(0.9367,1)" font-size="30.90" fill="#151515" style="font-kerning:none" >set</text>
<text transform="translate(528.22,1486.72) scale(1.0469,1)" font-size="43.12" fill="#151515" style="font-kerning:none" >(V)</text>
<path d="M512.5 1268.2 L605.7 1268.2" fill="none" stroke="#000" stroke-width="1.6" stroke-linejoin="round" stroke-linecap="round" />
<path d="M559.5 1268.5h0" fill="none" stroke="#000" stroke-width="10.9" stroke-linecap="square"/>
<text transform="translate(615.22,1281.42) scale(1.0651,1)" font-size="38.55" fill="#151515" style="font-kerning:none" >Cu/ZnO/Pt</text>
<path d="M512.5 1319.6 L605.7 1319.6" fill="none" stroke="#ff0000" stroke-width="1.6" stroke-linejoin="round" stroke-linecap="round" />
<path d="M559 1319.6h0" fill="none" stroke="#ff0000" stroke-width="12.5" stroke-linecap="round"/>
<text transform="translate(615.23,1332.08) scale(1.1079,1)" font-size="36.82" fill="#151515" style="font-kerning:none" >Cu/ZnO:Cu/Pt</text>
<path d="M1267.8 1313.8 L1273.9 1307.7 L1301.8 1304.2 L1354.1 1297.2 L1389.8 1292.9 L1394.1 1290.3 L1404.6 1283.3 L1416.8 1275.5 L1430.7 1265.9 L1446.4 1253.7 L1456.8 1249.3 L1450.7 1244 L1450.7 1234.5 L1455.1 1220.6 L1467.3 1211.9 L1470.8 1199.7 L1476 1182.3 L1480.4 1164.8 L1481.2 1147.4 L1483.9 1133.8 L1498.8 1126.3 L1504.4 1117 L1504.4 1094.6 L1508.2 1072.2 L1511 1057.3 L1516.6 1038.6 L1518.4 1020 L1521.2 1001.3 L1526.8 988.2 L1528.7 969.6 L1534.3 958.4 L1540.8 945.3 L1541.8 926.6 L1549.2 913.6 L1558.6 905.2 L1566 901.5" fill="none" stroke="#000" stroke-width="1.8" stroke-linejoin="round" stroke-linecap="round" />
<path d="M1267.8 1313.8h0M1273.9 1308.5h0M1301.8 1304.2h0M1354.1 1297.2h0M1389.8 1292.9h0M1397.8 1287.9h0M1404.3 1283.5h0M1411 1279.2h0M1417.8 1274.8h0M1424 1270.5h0M1430.3 1266.2h0M1436 1261.8h0M1441.5 1257.5h0M1447.7 1253.1h0M1456.2 1248.8h0M1451.2 1244.5h0M1450.7 1240.1h0M1450.7 1235.8h0M1451.7 1231.4h0M1453 1227.1h0M1454.4 1222.8h0M1458.2 1218.4h0M1464.2 1214.1h0M1467.9 1209.7h0M1469.2 1205.4h0M1470.4 1201.1h0M1471.7 1196.7h0M1473 1192.4h0M1474.3 1188h0M1475.6 1183.7h0M1476.7 1179.4h0M1477.8 1175h0M1478.9 1170.7h0M1480 1166.3h0M1480.5 1162h0M1480.7 1157.7h0M1480.9 1153.3h0M1481.1 1149h0M1481.7 1144.6h0M1482.6 1140.3h0M1483.5 1136h0M1488.2 1131.6h0M1496.9 1127.3h0M1500.8 1122.9h0M1503.4 1118.6h0M1504.4 1114.3h0M1504.4 1109.9h0M1504.4 1105.6h0M1504.4 1101.2h0M1504.4 1096.9h0M1504.7 1092.6h0M1505.5 1088.2h0M1506.2 1083.9h0M1507 1079.5h0M1507.7 1075.2h0M1508.5 1070.9h0M1509.3 1066.5h0M1510.1 1062.2h0M1510.9 1057.8h0M1512.1 1053.5h0M1513.4 1049.2h0M1514.7 1044.8h0M1516 1040.5h0M1516.8 1036.1h0M1517.3 1031.8h0M1517.7 1027.5h0M1518.1 1023.1h0M1518.6 1018.8h0M1519.2 1014.4h0M1519.9 1010.1h0M1520.5 1005.8h0M1521.2 1001.4h0M1523 997.1h0M1524.9 992.7h0M1526.7 988.4h0M1527.2 984.1h0M1527.7 979.7h0M1528.1 975.4h0M1528.6 971h0M1530.2 966.7h0M1532.3 962.4h0M1534.5 958h0M1536.6 953.7h0M1538.8 949.3h0M1540.8 945h0M1541 940.7h0M1541.3 936.3h0M1541.5 932h0M1541.7 927.6h0M1543.7 923.3h0M1546.1 919h0M1548.6 914.6h0M1552.9 910.3h0M1557.8 905.9h0M1566 901.6h0" fill="none" stroke="#000" stroke-width="11.0" stroke-linecap="square"/>
<path d="M1491.7 1314.7 L1498.7 1306 L1507.4 1300.7 L1516.1 1297.2 L1533.5 1293.7 L1533.5 1278 L1532.6 1262.4 L1535.2 1251.9 L1540.5 1243.2 L1554.4 1236.3 L1561.4 1227.6 L1566.6 1211.9 L1570.1 1199.7 L1576 1190 L1580 1180 L1583.5 1174.3 L1589.9 1146.6 L1592 1118.9 L1600.5 1106.1 L1615.5 1091.2 L1630.4 1084.8 L1645.3 1072 L1656 1057 L1670.9 1046.4 L1673 1029.3 L1681.6 1014.4 L1692.2 1001.6 L1696.5 976 L1705 967.5 L1720 954.7 L1730.6 948.3 L1743.4 937.6 L1754.1 922.7 L1760.5 914.1 L1773.3 909.9 L1784 904.5 L1791.4 900.3" fill="none" stroke="#ff0000" stroke-width="1.8" stroke-linejoin="round" stroke-linecap="round" />
<path d="M1491.7 1314.7h0M1494 1311.8h0M1496.4 1308.9h0M1498.7 1306h0M1501.6 1304.2h0M1504.5 1302.5h0M1507.4 1300.7h0M1510.3 1299.5h0M1513.2 1298.4h0M1516.1 1297.2h0M1533.5 1293.7h0M1533.5 1290.6h0M1533.5 1287.4h0M1533.5 1284.3h0M1533.5 1281.1h0M1533.5 1278h0M1533.3 1274.9h0M1533.1 1271.8h0M1533 1268.6h0M1532.8 1265.5h0M1532.6 1262.4h0M1533.5 1258.9h0M1534.3 1255.4h0M1535.2 1251.9h0M1537 1249h0M1538.7 1246.1h0M1540.5 1243.2h0M1543.3 1241.8h0M1546.1 1240.4h0M1548.8 1239.1h0M1551.6 1237.7h0M1554.4 1236.3h0M1556.7 1233.4h0M1559.1 1230.5h0M1561.4 1227.6h0M1562.4 1224.5h0M1563.5 1221.3h0M1564.5 1218.2h0M1565.6 1215h0M1566.6 1211.9h0M1567.5 1208.9h0M1568.3 1205.8h0M1569.2 1202.8h0M1570.1 1199.7h0M1572.1 1196.5h0M1574 1193.2h0M1576 1190h0M1577.3 1186.7h0M1578.7 1183.3h0M1580 1180h0M1581.8 1177.2h0M1583.5 1174.3h0M1584.2 1171.2h0M1584.9 1168.1h0M1585.6 1165.1h0M1586.3 1162h0M1587.1 1158.9h0M1587.8 1155.8h0M1588.5 1152.8h0M1589.2 1149.7h0M1589.9 1146.6h0M1590.1 1143.5h0M1590.4 1140.4h0M1590.6 1137.4h0M1590.8 1134.3h0M1591.1 1131.2h0M1591.3 1128.1h0M1591.5 1125.1h0M1591.8 1122h0M1592 1118.9h0M1593.7 1116.3h0M1595.4 1113.8h0M1597.1 1111.2h0M1598.8 1108.7h0M1600.5 1106.1h0M1602.6 1104h0M1604.8 1101.8h0M1606.9 1099.7h0M1609.1 1097.6h0M1611.2 1095.5h0M1613.4 1093.3h0M1615.5 1091.2h0M1618.5 1089.9h0M1621.5 1088.6h0M1624.4 1087.4h0M1627.4 1086.1h0M1630.4 1084.8h0M1632.9 1082.7h0M1635.4 1080.5h0M1637.8 1078.4h0M1640.3 1076.3h0M1642.8 1074.1h0M1645.3 1072h0M1647.1 1069.5h0M1648.9 1067h0M1650.7 1064.5h0M1652.4 1062h0M1654.2 1059.5h0M1656 1057h0M1658.5 1055.2h0M1661 1053.5h0M1663.5 1051.7h0M1665.9 1049.9h0M1668.4 1048.2h0M1670.9 1046.4h0M1671.3 1043h0M1671.7 1039.6h0M1672.2 1036.1h0M1672.6 1032.7h0M1673 1029.3h0M1674.7 1026.3h0M1676.4 1023.3h0M1678.2 1020.4h0M1679.9 1017.4h0M1681.6 1014.4h0M1683.7 1011.8h0M1685.8 1009.3h0M1688 1006.7h0M1690.1 1004.2h0M1692.2 1001.6h0M1692.7 998.4h0M1693.3 995.2h0M1693.8 992h0M1694.3 988.8h0M1694.9 985.6h0M1695.4 982.4h0M1696 979.2h0M1696.5 976h0M1698.6 973.9h0M1700.8 971.8h0M1702.9 969.6h0M1705 967.5h0M1707.5 965.4h0M1710 963.2h0M1712.5 961.1h0M1715 959h0M1717.5 956.8h0M1720 954.7h0M1722.7 953.1h0M1725.3 951.5h0M1727.9 949.9h0M1730.6 948.3h0M1733.2 946.2h0M1735.7 944h0M1738.3 941.9h0M1740.8 939.7h0M1743.4 937.6h0M1745.2 935.1h0M1747 932.6h0M1748.8 930.2h0M1750.5 927.7h0M1752.3 925.2h0M1754.1 922.7h0M1756.2 919.8h0M1758.4 917h0M1760.5 914.1h0M1763.7 913h0M1766.9 912h0M1770.1 911h0M1773.3 909.9h0M1776.9 908.1h0M1780.4 906.3h0M1784 904.5h0M1787.7 902.4h0M1791.4 900.3h0" fill="none" stroke="#ff0000" stroke-width="11.5" stroke-linecap="round"/>
<rect x="1124.7" y="858.7" width="703.8" height="520.5999999999999" fill="none" stroke="#000" stroke-width="4.4" stroke-linejoin="round"/>
<line x1="1124.7" y1="1335.6" x2="1135.2" y2="1335.6" stroke="#000" stroke-width="4.4" stroke-linecap="round"/>
<line x1="1124.7" y1="1248.8" x2="1135.2" y2="1248.8" stroke="#000" stroke-width="4.4" stroke-linecap="round"/>
<line x1="1124.7" y1="1162" x2="1135.2" y2="1162" stroke="#000" stroke-width="4.4" stroke-linecap="round"/>
<line x1="1124.7" y1="1075.2" x2="1135.2" y2="1075.2" stroke="#000" stroke-width="4.4" stroke-linecap="round"/>
<line x1="1124.7" y1="988.4" x2="1135.2" y2="988.4" stroke="#000" stroke-width="4.4" stroke-linecap="round"/>
<line x1="1124.7" y1="901.6" x2="1135.2" y2="901.6" stroke="#000" stroke-width="4.4" stroke-linecap="round"/>
<line x1="1326.7" y1="1379.3" x2="1326.7" y2="1367.8" stroke="#000" stroke-width="4.4" stroke-linecap="round"/>
<line x1="1528.7" y1="1379.3" x2="1528.7" y2="1367.8" stroke="#000" stroke-width="4.4" stroke-linecap="round"/>
<line x1="1730.7" y1="1379.3" x2="1730.7" y2="1367.8" stroke="#000" stroke-width="4.4" stroke-linecap="round"/>
<text transform="translate(1091.08,1347.28) scale(0.9849,1)" font-size="43.12" fill="#151515" stroke="#151515" stroke-width="0.15" style="font-kerning:none" >0</text>
<text transform="translate(1069.85,1260.48) scale(0.9849,1)" font-size="43.12" fill="#151515" stroke="#151515" stroke-width="0.15" style="font-kerning:none" >20</text>
<text transform="translate(1069.85,1173.68) scale(0.9849,1)" font-size="43.12" fill="#151515" stroke="#151515" stroke-width="0.15" style="font-kerning:none" >40</text>
<text transform="translate(1069.85,1086.88) scale(0.9849,1)" font-size="43.12" fill="#151515" stroke="#151515" stroke-width="0.15" style="font-kerning:none" >60</text>
<text transform="translate(1069.85,1000.08) scale(0.9849,1)" font-size="43.12" fill="#151515" stroke="#151515" stroke-width="0.15" style="font-kerning:none" >80</text>
<text transform="translate(1048.61,913.28) scale(0.9849,1)" font-size="43.12" fill="#151515" stroke="#151515" stroke-width="0.15" style="font-kerning:none" >100</text>
<text transform="translate(1088.62,1425.99) scale(1.0340,1)" font-size="42.73" fill="#151515" stroke="#151515" stroke-width="0.15" style="font-kerning:none" >-1.2</text>
<text transform="translate(1290.25,1426.00) scale(1.0385,1)" font-size="42.55" fill="#151515" stroke="#151515" stroke-width="0.15" style="font-kerning:none" >-1.0</text>
<text transform="translate(1492.25,1426.00) scale(1.0385,1)" font-size="42.55" fill="#151515" stroke="#151515" stroke-width="0.15" style="font-kerning:none" >-0.8</text>
<text transform="translate(1694.06,1426.00) scale(1.0385,1)" font-size="42.55" fill="#151515" stroke="#151515" stroke-width="0.15" style="font-kerning:none" >-0.6</text>
<text transform="translate(964.41,883.43) scale(1.0522,1)" font-size="49.63" fill="#151515" stroke="#151515" stroke-width="0.15" style="font-kerning:none" >(d)</text>
<text transform="translate(1009.84,1361.43) rotate(-90) scale(1.0492,1)" font-size="44.74" fill="#151515" stroke="#151515" stroke-width="0.15" style="font-kerning:none" >Cumulative Probability</text>
<text transform="translate(1366.92,1485.45) scale(0.9907,1)" font-size="42.99" fill="#151515" stroke="#151515" stroke-width="0.15" style="font-kerning:none" >V</text>
<text transform="translate(1399.11,1485.81) scale(0.9949,1)" font-size="29.86" fill="#151515" stroke="#151515" stroke-width="0.15" style="font-kerning:none" >reset</text>
<text transform="translate(1467.27,1484.91) scale(1.0847,1)" font-size="42.68" fill="#151515" stroke="#151515" stroke-width="0.15" style="font-kerning:none" >(V)</text>
<path d="M1145.7 901.2 L1239.8 901.2" fill="none" stroke="#000" stroke-width="1.8" stroke-linejoin="round" stroke-linecap="round" />
<path d="M1192.5 901.4h0" fill="none" stroke="#000" stroke-width="11" stroke-linecap="square"/>
<text transform="translate(1249.20,914.23) scale(1.0903,1)" font-size="37.95" fill="#151515" stroke="#151515" stroke-width="0.15" style="font-kerning:none" >Cu/ZnO/Pt</text>
<path d="M1145.7 953.6 L1239.8 953.6" fill="none" stroke="#ff0000" stroke-width="1.8" stroke-linejoin="round" stroke-linecap="round" />
<path d="M1192.5 952.8h0" fill="none" stroke="#ff0000" stroke-width="11.5" stroke-linecap="round"/>
<text transform="translate(1249.21,964.49) scale(1.1403,1)" font-size="36.23" fill="#151515" stroke="#151515" stroke-width="0.15" style="font-kerning:none" >Cu/ZnO:Cu/Pt</text>
</svg>
</body></html>
